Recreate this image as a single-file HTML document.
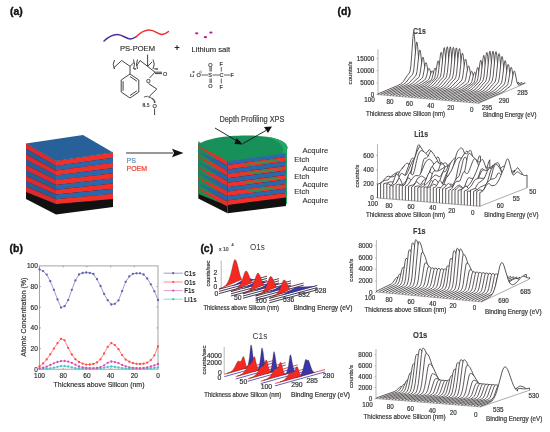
<!DOCTYPE html>
<html><head><meta charset="utf-8"><style>
html,body{margin:0;padding:0;background:#fff;}
svg{display:block;font-family:"Liberation Sans",Arial,sans-serif;}
#w{width:550px;height:432px;overflow:hidden;}
</style></head><body>
<div id="w"><svg width="550" height="432" viewBox="0 0 550 432">
<rect width="550" height="432" fill="#fff"/>
<text x="10" y="14.8" font-size="10.4" fill="#111" text-anchor="start" font-weight="bold" stroke="#111" stroke-width="0.35">(a)</text>
<text x="9.6" y="252.3" font-size="10.4" fill="#111" text-anchor="start" font-weight="bold" stroke="#111" stroke-width="0.35">(b)</text>
<text x="200.4" y="251.8" font-size="10.4" fill="#111" text-anchor="start" font-weight="bold" stroke="#111" stroke-width="0.35">(c)</text>
<text x="337.6" y="14.8" font-size="10.4" fill="#111" text-anchor="start" font-weight="bold" stroke="#111" stroke-width="0.35">(d)</text>
<path d="M104 41 C109 36.5 113 34.5 117 34.5 C123 34.5 126 39 130.5 39 C133 39 135 37.5 136.5 36.5" fill="none" stroke="#4b2a9c" stroke-width="1.5" stroke-linecap="round"/>
<path d="M136.5 36.5 C140 33 144 30 149 30 C155 30 158 34.5 162 34.5 C164.5 34.5 166.5 33 168.5 31.5" fill="none" stroke="#f03232" stroke-width="1.5" stroke-linecap="round"/>
<text x="120" y="51.3" font-size="8" fill="#222" text-anchor="start" font-weight="normal" stroke="#222" stroke-width="0.1" textLength="35" lengthAdjust="spacingAndGlyphs">PS-POEM</text>
<text x="174.3" y="50.8" font-size="9.5" fill="#222" text-anchor="start" font-weight="bold" >+</text>
<ellipse cx="196.7" cy="33.3" rx="1.7" ry="1.15" fill="#c0208c"/>
<ellipse cx="205.4" cy="37.2" rx="1.7" ry="1.15" fill="#c0208c"/>
<ellipse cx="210.9" cy="32.6" rx="1.7" ry="1.15" fill="#c0208c"/>
<text x="191.5" y="51.5" font-size="8" fill="#222" text-anchor="start" font-weight="normal" stroke="#222" stroke-width="0.1" textLength="38.5" lengthAdjust="spacingAndGlyphs">Lithium salt</text>
<path d="M113.5 68 L121.7 60.5 L130 66.3 L134 62.5 M136.5 66 L140 60.5 L147.6 66.3 L152 62 M147.6 66.3 L147.6 54.6 M130 66.3 L130 74" stroke="#3a3a3a" stroke-width="0.95" fill="none"/>
<path d="M114.5 60 Q112 64 114.5 69 M133.5 59.5 Q135.5 64 133.5 69 M137.5 59.5 Q135.5 64 137.5 69 M153 59.5 Q155.5 64 153 69" stroke="#3a3a3a" stroke-width="0.95" fill="none"/>
<text x="134.3" y="70" font-size="3.5" fill="#333" text-anchor="start" font-weight="normal"  stroke="#333" stroke-width="0.2">n</text>
<text x="154.5" y="69.5" font-size="4" fill="#333" text-anchor="start" font-weight="normal"  stroke="#333" stroke-width="0.2">m</text>
<polygon points="130,74 138.8,80 138.8,92 130,98 121.2,92 121.2,80" stroke="#3a3a3a" stroke-width="0.95" fill="none"/>
<path d="M130 76.5 L136.9 81.2 M136.9 90.8 L130 95.5 M123.1 90.8 L123.1 81.2" stroke="#3a3a3a" stroke-width="0.95" fill="none"/>
<path d="M147.6 66.3 L155 72.2 L162 72.2 M155 73.6 L162 73.6 M155 72.2 L149.5 78 M148.5 83.5 L156.8 89 L149.4 96.3 L154 100.5 L154.6 103" stroke="#3a3a3a" stroke-width="0.95" fill="none"/>
<path d="M144 97 Q148 95 150 98 M152 98 Q156 100 155 103" stroke="#3a3a3a" stroke-width="0.8" fill="none"/>
<text x="163" y="75.5" font-size="5.5" fill="#333" text-anchor="start" font-weight="normal"  stroke="#333" stroke-width="0.2">O</text>
<text x="146.3" y="83" font-size="5.5" fill="#333" text-anchor="start" font-weight="normal"  stroke="#333" stroke-width="0.2">O</text>
<text x="152.6" y="108" font-size="5.5" fill="#333" text-anchor="start" font-weight="normal"  stroke="#333" stroke-width="0.2">O</text>
<path d="M154.6 108.5 L154.6 115" stroke="#3a3a3a" stroke-width="0.95" fill="none"/>
<text x="142.5" y="107" font-size="5.5" fill="#333" text-anchor="start" font-weight="normal" font-family="Liberation Serif" stroke="#333" stroke-width="0.2">8.5</text>
<text x="190" y="77" font-size="4.5" fill="#333" text-anchor="start" font-weight="normal" font-family="Liberation Serif" stroke="#333" stroke-width="0.2">Li</text>
<circle cx="193.5" cy="72" r="1" fill="#555"/><circle cx="200.5" cy="72" r="1" fill="none" stroke="#555" stroke-width="0.5"/>
<text x="196.5" y="77" font-size="5.5" fill="#333" text-anchor="start" font-weight="normal"  stroke="#333" stroke-width="0.2">O</text>
<text x="208.2" y="77" font-size="5.5" fill="#333" text-anchor="start" font-weight="normal"  stroke="#333" stroke-width="0.2">S</text>
<text x="219.5" y="77" font-size="5.5" fill="#333" text-anchor="start" font-weight="normal"  stroke="#333" stroke-width="0.2">C</text>
<text x="230.5" y="77" font-size="5.5" fill="#333" text-anchor="start" font-weight="normal"  stroke="#333" stroke-width="0.2">F</text>
<text x="208.2" y="66.5" font-size="5.5" fill="#333" text-anchor="start" font-weight="normal"  stroke="#333" stroke-width="0.2">O</text>
<text x="208.2" y="88" font-size="5.5" fill="#333" text-anchor="start" font-weight="normal"  stroke="#333" stroke-width="0.2">O</text>
<text x="219.5" y="66" font-size="5.5" fill="#333" text-anchor="start" font-weight="normal"  stroke="#333" stroke-width="0.2">F</text>
<text x="219.5" y="88.5" font-size="5.5" fill="#333" text-anchor="start" font-weight="normal"  stroke="#333" stroke-width="0.2">F</text>
<path d="M201.5 75 L208 75 M212.5 75 L219.5 75 M224 75 L230.5 75 M210 67 L210 71.5 M211.3 67 L211.3 71.5 M210 78.5 L210 83 M211.3 78.5 L211.3 83 M221.3 67 L221.3 71.5 M221.3 78.5 L221.3 83.5" stroke="#3a3a3a" stroke-width="0.8" fill="none"/>
<polygon points="26,143.5 56,161 56,214.6 26,199" fill="#111"/>
<polygon points="26,143.5 56,161 56,165.9 26,149" fill="#d92b2e"/>
<polygon points="26,148.9 56,165.8 56,170.6 26,154.3" fill="#275c95"/>
<polygon points="26,154.2 56,170.6 56,175.4 26,159.7" fill="#d92b2e"/>
<polygon points="26,159.6 56,175.3 56,180.2 26,165.1" fill="#275c95"/>
<polygon points="26,165 56,180.1 56,185 26,170.4" fill="#d92b2e"/>
<polygon points="26,170.3 56,184.9 56,189.7 26,175.8" fill="#275c95"/>
<polygon points="26,175.7 56,189.7 56,194.5 26,181.2" fill="#d92b2e"/>
<polygon points="26,181.1 56,194.4 56,199.3 26,186.5" fill="#275c95"/>
<polygon points="26,186.4 56,199.2 56,204.1 26,191.9" fill="#d92b2e"/>
<polygon points="56,161 113,152.5 113,207 56,214.6" fill="#111"/>
<polygon points="56,161 113,152.5 113,157.8 56,165.9" fill="#f2302a"/>
<polygon points="56,165.8 113,157.7 113,162.9 56,170.6" fill="#2a68aa"/>
<polygon points="56,170.6 113,162.8 113,168.1 56,175.4" fill="#f2302a"/>
<polygon points="56,175.3 113,168 113,173.3 56,180.2" fill="#2a68aa"/>
<polygon points="56,180.1 113,173.2 113,178.4 56,185" fill="#f2302a"/>
<polygon points="56,184.9 113,178.3 113,183.6 56,189.7" fill="#2a68aa"/>
<polygon points="56,189.7 113,183.5 113,188.8 56,194.5" fill="#f2302a"/>
<polygon points="56,194.4 113,188.7 113,193.9 56,199.3" fill="#2a68aa"/>
<polygon points="56,199.2 113,193.8 113,199.1 56,204.1" fill="#f2302a"/>
<polygon points="26,143.5 83,135 113,152.5 56,161" fill="#28609a"/>
<path d="M126 153 L173 153" stroke="#333" stroke-width="1.1"/>
<polygon points="172,148.8 183.5,153 172,157.2 174,153" fill="#111"/>
<text x="126.5" y="163.3" font-size="7" fill="#5b8fb9" text-anchor="start" font-weight="normal"  stroke="#5b8fb9" stroke-width="0.2">PS</text>
<text x="126.5" y="171.3" font-size="7" fill="#ee4030" text-anchor="start" font-weight="normal"  stroke="#ee4030" stroke-width="0.2">POEM</text>
<polygon points="198.3,143.5 227.5,161 227.5,213.3 198.3,198.5" fill="#111"/>
<polygon points="198.3,143.5 227.5,161 227.5,166.1 198.3,148.9" fill="#e0302c"/>
<polygon points="198.3,148.8 227.5,166.1 227.5,171.2 198.3,154.2" fill="#2a62a6"/>
<polygon points="198.3,154.1 227.5,171.1 227.5,176.3 198.3,159.5" fill="#e0302c"/>
<polygon points="198.3,159.4 227.5,176.2 227.5,181.3 198.3,164.9" fill="#2a62a6"/>
<polygon points="198.3,164.8 227.5,181.2 227.5,186.4 198.3,170.2" fill="#e0302c"/>
<polygon points="198.3,170.1 227.5,186.3 227.5,191.4 198.3,175.5" fill="#2a62a6"/>
<polygon points="198.3,175.4 227.5,191.3 227.5,196.5 198.3,180.8" fill="#e0302c"/>
<polygon points="198.3,180.7 227.5,196.4 227.5,201.5 198.3,186.1" fill="#2a62a6"/>
<polygon points="198.3,186 227.5,201.4 227.5,206.6 198.3,191.4" fill="#e0302c"/>
<polygon points="227.5,160.5 286,152.5 286,206 227.5,213.3" fill="#111"/>
<polygon points="227.5,160.5 286,152.5 286,157.1 227.5,165" fill="#2a68aa"/>
<polygon points="227.5,164.9 286,157 286,161.6 227.5,169.5" fill="#f2302a"/>
<polygon points="227.5,169.4 286,161.5 286,166.1 227.5,173.9" fill="#2a68aa"/>
<polygon points="227.5,173.8 286,166 286,170.6 227.5,178.3" fill="#f2302a"/>
<polygon points="227.5,178.2 286,170.5 286,175.1 227.5,182.8" fill="#2a68aa"/>
<polygon points="227.5,182.7 286,175 286,179.6 227.5,187.2" fill="#f2302a"/>
<polygon points="227.5,187.1 286,179.5 286,184 227.5,191.6" fill="#2a68aa"/>
<polygon points="227.5,191.5 286,184 286,188.5 227.5,196.1" fill="#f2302a"/>
<polygon points="227.5,196 286,188.5 286,193 227.5,200.5" fill="#2a68aa"/>
<polygon points="227.5,200.4 286,192.9 286,197.5 227.5,204.9" fill="#f2302a"/>
<path d="M241 165.3 Q266 159.5 283 159.6 Q266 164.3 241 165.3 Z" fill="#3f8c47"/>
<path d="M239 174.5 Q266 168.5 283 168.6 Q266 173.3 239 174.5 Z" fill="#3f8c47"/>
<path d="M243 182.9 Q266 177.4 283 177.6 Q266 182.2 243 182.9 Z" fill="#3f8c47"/>
<path d="M241 192 Q266 186.4 283 186.6 Q266 191.2 241 192 Z" fill="#3f8c47"/>
<polygon points="198.3,141.2 222,157.7 198.3,146.1" fill="#1f8a50"/>
<polygon points="198.3,146.5 219.5,161.3 198.3,151.4" fill="#1f8a50"/>
<polygon points="198.3,151.8 217,165 198.3,156.7" fill="#1f8a50"/>
<polygon points="198.3,157.1 222,173 198.3,162" fill="#1f8a50"/>
<polygon points="198.3,162.5 219.5,176.7 198.3,167.4" fill="#1f8a50"/>
<polygon points="198.3,167.8 217,180.5 198.3,172.7" fill="#1f8a50"/>
<polygon points="198.3,173.1 222,188.3 198.3,178" fill="#1f8a50"/>
<polygon points="198.3,178.4 219.5,192.1 198.3,183.3" fill="#1f8a50"/>
<polygon points="198.3,183.7 217,195.9 198.3,188.6" fill="#1f8a50"/>
<polygon points="198.3,189 222,203.6 198.3,193.9" fill="#1f8a50"/>
<path d="M285.6 151 L287 149.5 L287 203.5 L286 204.5 Z" fill="#23a55c"/>
<path d="M198 145 C205 138 230 135 250 135.5 C272 136 287 140 287.5 147.5 L286.3 153.3 L227.5 161.3 L198.3 144.2 Z" fill="#17905a"/>
<path d="M266 136.5 C279 138.5 287 142 287.5 147.5 L286.3 153 L283 153.2 C285 146 278 140 266 136.5 Z" fill="#22a862"/>
<text x="219.4" y="122.2" font-size="8.3" fill="#444" text-anchor="start" font-weight="normal" textLength="65" lengthAdjust="spacingAndGlyphs" stroke="#444" stroke-width="0.2">Depth Profiling XPS</text>
<path d="M215 128 L239.5 142.5 M243 143.5 L266 130.5" stroke="#111" stroke-width="0.9"/>
<polygon points="236.5,138 243,144.5 234.5,144" fill="#111"/>
<polygon points="264,127 272,126.5 268,133" fill="#111"/>
<text x="302.4" y="153.3" font-size="7.6" fill="#333" text-anchor="start" font-weight="normal" stroke="#333" stroke-width="0.12">Acquire</text>
<text x="294.3" y="161.9" font-size="7.6" fill="#333" text-anchor="start" font-weight="normal" stroke="#333" stroke-width="0.12">Etch</text>
<text x="302.4" y="170.5" font-size="7.6" fill="#333" text-anchor="start" font-weight="normal" stroke="#333" stroke-width="0.12">Acquire</text>
<text x="294.3" y="178.6" font-size="7.6" fill="#333" text-anchor="start" font-weight="normal" stroke="#333" stroke-width="0.12">Etch</text>
<text x="302.4" y="186.6" font-size="7.6" fill="#333" text-anchor="start" font-weight="normal" stroke="#333" stroke-width="0.12">Acquire</text>
<text x="294.3" y="194.4" font-size="7.6" fill="#333" text-anchor="start" font-weight="normal" stroke="#333" stroke-width="0.12">Etch</text>
<text x="302.4" y="202.6" font-size="7.6" fill="#333" text-anchor="start" font-weight="normal" stroke="#333" stroke-width="0.12">Acquire</text>
<rect x="39.5" y="265.9" width="118.5" height="103.30000000000001" fill="none" stroke="#9a9a9a" stroke-width="0.9"/>
<path d="M39.5 348.5 h1.5 M158.0 348.5 h-1.5 M39.5 327.9 h1.5 M158.0 327.9 h-1.5 M39.5 307.2 h1.5 M158.0 307.2 h-1.5 M39.5 286.6 h1.5 M158.0 286.6 h-1.5 M63.2 369.2 v-1.5 M63.2 265.9 v1.5 M86.9 369.2 v-1.5 M86.9 265.9 v1.5 M110.6 369.2 v-1.5 M110.6 265.9 v1.5 M134.3 369.2 v-1.5 M134.3 265.9 v1.5" stroke="#888" stroke-width="0.7"/>
<polyline points="39.5,368.9 43.1,368.8 46.7,368.6 50.3,368.3 53.9,367.7 57.5,366.8 61,366.1 64.6,366 68.2,366.5 71.8,367.4 75.4,368.2 79,368.5 82.6,368.7 86.2,368.8 89.8,368.8 93.4,368.7 97,368.6 100.5,368.4 104.1,367.7 107.7,366.9 111.3,366.5 114.9,366.9 118.5,367.5 122.1,368.1 125.7,368.4 129.3,368.7 132.9,368.8 136.5,368.8 140,368.8 143.6,368.7 147.2,368.6 150.8,368.3 154.4,367.9 158,367.5" fill="none" stroke="#7ad6d6" stroke-width="0.9"/>
<g fill="#45c4c4"><circle cx="39.5" cy="368.9" r="1.15"/><circle cx="43.1" cy="368.8" r="1.15"/><circle cx="46.7" cy="368.6" r="1.15"/><circle cx="50.3" cy="368.3" r="1.15"/><circle cx="53.9" cy="367.7" r="1.15"/><circle cx="57.5" cy="366.8" r="1.15"/><circle cx="61" cy="366.1" r="1.15"/><circle cx="64.6" cy="366" r="1.15"/><circle cx="68.2" cy="366.5" r="1.15"/><circle cx="71.8" cy="367.4" r="1.15"/><circle cx="75.4" cy="368.2" r="1.15"/><circle cx="79" cy="368.5" r="1.15"/><circle cx="82.6" cy="368.7" r="1.15"/><circle cx="86.2" cy="368.8" r="1.15"/><circle cx="89.8" cy="368.8" r="1.15"/><circle cx="93.4" cy="368.7" r="1.15"/><circle cx="97" cy="368.6" r="1.15"/><circle cx="100.5" cy="368.4" r="1.15"/><circle cx="104.1" cy="367.7" r="1.15"/><circle cx="107.7" cy="366.9" r="1.15"/><circle cx="111.3" cy="366.5" r="1.15"/><circle cx="114.9" cy="366.9" r="1.15"/><circle cx="118.5" cy="367.5" r="1.15"/><circle cx="122.1" cy="368.1" r="1.15"/><circle cx="125.7" cy="368.4" r="1.15"/><circle cx="129.3" cy="368.7" r="1.15"/><circle cx="132.9" cy="368.8" r="1.15"/><circle cx="136.5" cy="368.8" r="1.15"/><circle cx="140" cy="368.8" r="1.15"/><circle cx="143.6" cy="368.7" r="1.15"/><circle cx="147.2" cy="368.6" r="1.15"/><circle cx="150.8" cy="368.3" r="1.15"/><circle cx="154.4" cy="367.9" r="1.15"/><circle cx="158" cy="367.5" r="1.15"/></g>
<polyline points="39.5,368.4 43.1,367.7 46.7,366.7 50.3,365 53.9,363.3 57.5,361.9 61,361.1 64.6,361 68.2,361.6 71.8,362.8 75.4,364.7 79,366.5 82.6,367.4 86.2,367.9 89.8,368.1 93.4,368.2 97,367.9 100.5,367.1 104.1,365.3 107.7,362.8 111.3,361.5 114.9,362.1 118.5,363.2 122.1,364.9 125.7,366.3 129.3,367.3 132.9,367.8 136.5,368.1 140,368.2 143.6,368 147.2,367.5 150.8,366.5 154.4,365.4 158,364" fill="none" stroke="#e890d0" stroke-width="0.9"/>
<g fill="#d24cb8"><circle cx="39.5" cy="368.4" r="1.15"/><circle cx="43.1" cy="367.7" r="1.15"/><circle cx="46.7" cy="366.7" r="1.15"/><circle cx="50.3" cy="365" r="1.15"/><circle cx="53.9" cy="363.3" r="1.15"/><circle cx="57.5" cy="361.9" r="1.15"/><circle cx="61" cy="361.1" r="1.15"/><circle cx="64.6" cy="361" r="1.15"/><circle cx="68.2" cy="361.6" r="1.15"/><circle cx="71.8" cy="362.8" r="1.15"/><circle cx="75.4" cy="364.7" r="1.15"/><circle cx="79" cy="366.5" r="1.15"/><circle cx="82.6" cy="367.4" r="1.15"/><circle cx="86.2" cy="367.9" r="1.15"/><circle cx="89.8" cy="368.1" r="1.15"/><circle cx="93.4" cy="368.2" r="1.15"/><circle cx="97" cy="367.9" r="1.15"/><circle cx="100.5" cy="367.1" r="1.15"/><circle cx="104.1" cy="365.3" r="1.15"/><circle cx="107.7" cy="362.8" r="1.15"/><circle cx="111.3" cy="361.5" r="1.15"/><circle cx="114.9" cy="362.1" r="1.15"/><circle cx="118.5" cy="363.2" r="1.15"/><circle cx="122.1" cy="364.9" r="1.15"/><circle cx="125.7" cy="366.3" r="1.15"/><circle cx="129.3" cy="367.3" r="1.15"/><circle cx="132.9" cy="367.8" r="1.15"/><circle cx="136.5" cy="368.1" r="1.15"/><circle cx="140" cy="368.2" r="1.15"/><circle cx="143.6" cy="368" r="1.15"/><circle cx="147.2" cy="367.5" r="1.15"/><circle cx="150.8" cy="366.5" r="1.15"/><circle cx="154.4" cy="365.4" r="1.15"/><circle cx="158" cy="364" r="1.15"/></g>
<polyline points="39.5,366.5 43.1,363.4 46.7,359.4 50.3,354.3 53.9,348.6 57.5,343.1 61,338.8 64.6,340.3 68.2,347.8 71.8,354.5 75.4,359.2 79,362 82.6,363.6 86.2,364.6 89.8,364.5 93.4,363.9 97,362.4 100.5,359.3 104.1,353.5 107.7,346.8 111.3,343.1 114.9,345.1 118.5,349.2 122.1,355.1 125.7,359.6 129.3,361.7 132.9,363.2 136.5,363.8 140,364 143.6,363.7 147.2,362.6 150.8,360.1 154.4,355.3 158,346.5" fill="none" stroke="#ff7a7a" stroke-width="0.9"/>
<g fill="#ff4848"><circle cx="39.5" cy="366.5" r="1.15"/><circle cx="43.1" cy="363.4" r="1.15"/><circle cx="46.7" cy="359.4" r="1.15"/><circle cx="50.3" cy="354.3" r="1.15"/><circle cx="53.9" cy="348.6" r="1.15"/><circle cx="57.5" cy="343.1" r="1.15"/><circle cx="61" cy="338.8" r="1.15"/><circle cx="64.6" cy="340.3" r="1.15"/><circle cx="68.2" cy="347.8" r="1.15"/><circle cx="71.8" cy="354.5" r="1.15"/><circle cx="75.4" cy="359.2" r="1.15"/><circle cx="79" cy="362" r="1.15"/><circle cx="82.6" cy="363.6" r="1.15"/><circle cx="86.2" cy="364.6" r="1.15"/><circle cx="89.8" cy="364.5" r="1.15"/><circle cx="93.4" cy="363.9" r="1.15"/><circle cx="97" cy="362.4" r="1.15"/><circle cx="100.5" cy="359.3" r="1.15"/><circle cx="104.1" cy="353.5" r="1.15"/><circle cx="107.7" cy="346.8" r="1.15"/><circle cx="111.3" cy="343.1" r="1.15"/><circle cx="114.9" cy="345.1" r="1.15"/><circle cx="118.5" cy="349.2" r="1.15"/><circle cx="122.1" cy="355.1" r="1.15"/><circle cx="125.7" cy="359.6" r="1.15"/><circle cx="129.3" cy="361.7" r="1.15"/><circle cx="132.9" cy="363.2" r="1.15"/><circle cx="136.5" cy="363.8" r="1.15"/><circle cx="140" cy="364" r="1.15"/><circle cx="143.6" cy="363.7" r="1.15"/><circle cx="147.2" cy="362.6" r="1.15"/><circle cx="150.8" cy="360.1" r="1.15"/><circle cx="154.4" cy="355.3" r="1.15"/><circle cx="158" cy="346.5" r="1.15"/></g>
<polyline points="39.5,269.4 43.1,271.1 46.7,274.6 50.3,281.2 53.9,289.8 57.5,299.4 61,307.6 64.6,306.2 68.2,300.1 71.8,289.8 75.4,280.4 79,274.5 82.6,273 86.2,272.5 89.8,272.9 93.4,274 97,279.2 100.5,286 104.1,293.9 107.7,300.2 111.3,304.5 114.9,303.8 118.5,300.4 122.1,291.1 125.7,281.8 129.3,276.4 132.9,273.8 136.5,273.3 140,273.3 143.6,274.5 147.2,278.5 150.8,284.3 154.4,291.3 158,300" fill="none" stroke="#9090d2" stroke-width="0.9"/>
<g fill="#5e5eae"><circle cx="39.5" cy="269.4" r="1.15"/><circle cx="43.1" cy="271.1" r="1.15"/><circle cx="46.7" cy="274.6" r="1.15"/><circle cx="50.3" cy="281.2" r="1.15"/><circle cx="53.9" cy="289.8" r="1.15"/><circle cx="57.5" cy="299.4" r="1.15"/><circle cx="61" cy="307.6" r="1.15"/><circle cx="64.6" cy="306.2" r="1.15"/><circle cx="68.2" cy="300.1" r="1.15"/><circle cx="71.8" cy="289.8" r="1.15"/><circle cx="75.4" cy="280.4" r="1.15"/><circle cx="79" cy="274.5" r="1.15"/><circle cx="82.6" cy="273" r="1.15"/><circle cx="86.2" cy="272.5" r="1.15"/><circle cx="89.8" cy="272.9" r="1.15"/><circle cx="93.4" cy="274" r="1.15"/><circle cx="97" cy="279.2" r="1.15"/><circle cx="100.5" cy="286" r="1.15"/><circle cx="104.1" cy="293.9" r="1.15"/><circle cx="107.7" cy="300.2" r="1.15"/><circle cx="111.3" cy="304.5" r="1.15"/><circle cx="114.9" cy="303.8" r="1.15"/><circle cx="118.5" cy="300.4" r="1.15"/><circle cx="122.1" cy="291.1" r="1.15"/><circle cx="125.7" cy="281.8" r="1.15"/><circle cx="129.3" cy="276.4" r="1.15"/><circle cx="132.9" cy="273.8" r="1.15"/><circle cx="136.5" cy="273.3" r="1.15"/><circle cx="140" cy="273.3" r="1.15"/><circle cx="143.6" cy="274.5" r="1.15"/><circle cx="147.2" cy="278.5" r="1.15"/><circle cx="150.8" cy="284.3" r="1.15"/><circle cx="154.4" cy="291.3" r="1.15"/><circle cx="158" cy="300" r="1.15"/></g>
<text x="37.8" y="371.7" font-size="7.0" fill="#333" text-anchor="end" font-weight="normal" textLength="3.6" lengthAdjust="spacingAndGlyphs" stroke="#333" stroke-width="0.2">0</text>
<text x="37.8" y="351" font-size="7.0" fill="#333" text-anchor="end" font-weight="normal" textLength="7.3" lengthAdjust="spacingAndGlyphs" stroke="#333" stroke-width="0.2">20</text>
<text x="37.8" y="330.4" font-size="7.0" fill="#333" text-anchor="end" font-weight="normal" textLength="7.3" lengthAdjust="spacingAndGlyphs" stroke="#333" stroke-width="0.2">40</text>
<text x="37.8" y="309.7" font-size="7.0" fill="#333" text-anchor="end" font-weight="normal" textLength="7.3" lengthAdjust="spacingAndGlyphs" stroke="#333" stroke-width="0.2">60</text>
<text x="37.8" y="289.1" font-size="7.0" fill="#333" text-anchor="end" font-weight="normal" textLength="7.3" lengthAdjust="spacingAndGlyphs" stroke="#333" stroke-width="0.2">80</text>
<text x="37.8" y="268.4" font-size="7.0" fill="#333" text-anchor="end" font-weight="normal" textLength="10.9" lengthAdjust="spacingAndGlyphs" stroke="#333" stroke-width="0.2">100</text>
<text x="39.5" y="378.3" font-size="7.2" fill="#333" text-anchor="middle" font-weight="normal" textLength="10.9" lengthAdjust="spacingAndGlyphs" stroke="#333" stroke-width="0.2">100</text>
<text x="63.2" y="378.3" font-size="7.2" fill="#333" text-anchor="middle" font-weight="normal" textLength="7.3" lengthAdjust="spacingAndGlyphs" stroke="#333" stroke-width="0.2">80</text>
<text x="86.9" y="378.3" font-size="7.2" fill="#333" text-anchor="middle" font-weight="normal" textLength="7.3" lengthAdjust="spacingAndGlyphs" stroke="#333" stroke-width="0.2">60</text>
<text x="110.6" y="378.3" font-size="7.2" fill="#333" text-anchor="middle" font-weight="normal" textLength="7.3" lengthAdjust="spacingAndGlyphs" stroke="#333" stroke-width="0.2">40</text>
<text x="134.3" y="378.3" font-size="7.2" fill="#333" text-anchor="middle" font-weight="normal" textLength="7.3" lengthAdjust="spacingAndGlyphs" stroke="#333" stroke-width="0.2">20</text>
<text x="158" y="378.3" font-size="7.2" fill="#333" text-anchor="middle" font-weight="normal" textLength="3.6" lengthAdjust="spacingAndGlyphs" stroke="#333" stroke-width="0.2">0</text>
<text x="99" y="387.4" font-size="7.9" fill="#333" text-anchor="middle" font-weight="normal" textLength="91" lengthAdjust="spacingAndGlyphs" stroke="#333" stroke-width="0.2">Thickness above Silicon (nm)</text>
<text x="0" y="0" font-size="7.6" fill="#333" text-anchor="middle" font-weight="normal" transform="translate(26 317.2) rotate(-90)" textLength="79" lengthAdjust="spacingAndGlyphs" stroke="#333" stroke-width="0.2">Atomic Concentration (%)</text>
<path d="M163.6 273.2 H182.7" stroke="#9090d2" stroke-width="0.9"/><circle cx="173.2" cy="273.2" r="1.1" fill="#5e5eae"/>
<text x="184.2" y="275.8" font-size="7.3" fill="#2a2a2a" text-anchor="start" font-weight="bold" textLength="11.6" lengthAdjust="spacingAndGlyphs">C1s</text>
<path d="M163.6 282.0 H182.7" stroke="#ff7a7a" stroke-width="0.9"/><circle cx="173.2" cy="282.0" r="1.1" fill="#ff4848"/>
<text x="184.2" y="284.6" font-size="7.3" fill="#2a2a2a" text-anchor="start" font-weight="bold" textLength="11.6" lengthAdjust="spacingAndGlyphs">O1s</text>
<path d="M163.6 290.6 H182.7" stroke="#e890d0" stroke-width="0.9"/><circle cx="173.2" cy="290.6" r="1.1" fill="#d24cb8"/>
<text x="184.2" y="293.2" font-size="7.3" fill="#2a2a2a" text-anchor="start" font-weight="bold" textLength="10.6" lengthAdjust="spacingAndGlyphs">F1s</text>
<path d="M163.6 299.2 H182.7" stroke="#7ad6d6" stroke-width="0.9"/><circle cx="173.2" cy="299.2" r="1.1" fill="#45c4c4"/>
<text x="184.2" y="301.8" font-size="7.3" fill="#2a2a2a" text-anchor="start" font-weight="bold" textLength="12.6" lengthAdjust="spacingAndGlyphs">Li1s</text>
<text x="250" y="249.6" font-size="9.6" fill="#3a3a3a" text-anchor="start" font-weight="normal" textLength="14.8" lengthAdjust="spacingAndGlyphs">O1s</text>
<text x="219" y="251" font-size="5" fill="#444" text-anchor="start" font-weight="normal"  stroke="#444" stroke-width="0.2">x 10</text>
<text x="231.5" y="246" font-size="3.8" fill="#444" text-anchor="start" font-weight="normal"  stroke="#444" stroke-width="0.2">4</text>
<path d="M221.2 260.5 L221.2 289" stroke="#888" stroke-width="0.6"/>
<text x="215.5" y="274.8" font-size="6.8" fill="#333" text-anchor="middle" font-weight="normal"  stroke="#333" stroke-width="0.2">2</text>
<text x="215.5" y="281.7" font-size="6.8" fill="#333" text-anchor="middle" font-weight="normal"  stroke="#333" stroke-width="0.2">1</text>
<text x="215.5" y="288.9" font-size="6.8" fill="#333" text-anchor="middle" font-weight="normal"  stroke="#333" stroke-width="0.2">0</text>
<text x="0" y="0" font-size="5.8" fill="#333" text-anchor="middle" font-weight="normal" transform="translate(210 273.5) rotate(-90)" textLength="26" lengthAdjust="spacingAndGlyphs" stroke="#333" stroke-width="0.2">counts/sec</text>
<polygon points="219,291.4 267,278.4 267,280.6 219,293.6" fill="#fff"/>
<path d="M219 293.6 L267 280.6" stroke="#1a1a3a" stroke-width="0.85"/>
<polygon points="219,289.2 267,276.2 267,278.4 219,291.4" fill="#fff"/>
<path d="M219 291.4 L267 278.4" stroke="#1a1a3a" stroke-width="0.85"/>
<path d="M219 289.2 L267 276.2" stroke="#5a1a1a" stroke-width="0.85"/>
<polygon points="231.9,286.3 246.9,277.5 254.9,279.7" fill="#3b37a0"/>
<polygon points="219,288.7 219.3,288.6 219.6,288.5 219.9,288.4 220.2,288.3 220.5,288.1 220.8,288 221.1,287.9 221.4,287.8 221.7,287.7 222,287.5 222.3,287.4 222.6,287.3 222.9,287.1 223.2,287 223.5,286.8 223.8,286.6 224.1,286.4 224.4,286.2 224.7,286 225,285.8 225.3,285.5 225.6,285.2 225.9,284.9 226.2,284.5 226.5,284.2 226.8,283.7 227.2,283.3 227.5,282.8 227.8,282.2 228.1,281.6 228.4,281 228.7,280.3 229,279.5 229.3,278.7 229.6,277.9 229.9,276.9 230.2,276 230.5,274.9 230.8,273.8 231.1,272.7 231.4,271.5 231.7,270.3 232,269 232.3,267.7 232.6,266.4 232.9,265.1 233.2,263.9 233.5,262.7 233.8,261.7 234.1,260.8 234.4,260.1 234.7,259.7 235,259.6 235.3,259.7 235.6,259.9 235.9,260.4 236.2,261 236.5,261.7 236.8,262.6 237.1,263.6 237.4,264.7 237.7,265.8 238,267.1 238.3,268.3 238.6,269.5 238.9,270.8 239.2,272 239.5,273.1 239.8,274.2 240.1,275.2 240.4,276.2 240.7,277 241,277.8 241.3,278.5 241.6,279.1 241.9,279.6 241.9,279.6 241.6,279.7 241.3,279.8 241,279.9 240.7,280.1 240.4,280.2 240.1,280.3 239.8,280.4 239.5,280.6 239.2,280.7 238.9,280.8 238.6,280.9 238.3,281.1 238,281.2 237.7,281.3 237.4,281.5 237.1,281.6 236.8,281.7 236.5,281.8 236.2,282 235.9,282.1 235.6,282.2 235.3,282.3 235,282.5 234.7,282.6 234.4,282.7 234.1,282.9 233.8,283 233.5,283.1 233.2,283.2 232.9,283.4 232.6,283.5 232.3,283.6 232,283.7 231.7,283.9 231.4,284 231.1,284.1 230.8,284.2 230.5,284.4 230.2,284.5 229.9,284.6 229.6,284.8 229.3,284.9 229,285 228.7,285.1 228.4,285.3 228.1,285.4 227.8,285.5 227.5,285.6 227.2,285.8 226.8,285.9 226.5,286 226.2,286.2 225.9,286.3 225.6,286.4 225.3,286.5 225,286.7 224.7,286.8 224.4,286.9 224.1,287 223.8,287.2 223.5,287.3 223.2,287.4 222.9,287.5 222.6,287.7 222.3,287.8 222,287.9 221.7,288.1 221.4,288.2 221.1,288.3 220.8,288.4 220.5,288.6 220.2,288.7 219.9,288.8 219.6,288.9 219.3,289.1 219,289.2" fill="#f42a22" stroke="#401818" stroke-width="0.3"/>
<polygon points="231,293.8 279,280.8 279,283 231,296" fill="#fff"/>
<path d="M231 296 L279 283" stroke="#1a1a3a" stroke-width="0.85"/>
<polygon points="231,291.6 279,278.6 279,280.8 231,293.8" fill="#fff"/>
<path d="M231 293.8 L279 280.8" stroke="#1a1a3a" stroke-width="0.85"/>
<path d="M231 291.6 L279 278.6" stroke="#5a1a1a" stroke-width="0.85"/>
<polygon points="242.9,289 257.9,280.1 265.9,282.4" fill="#3b37a0"/>
<polygon points="231,291.2 231.3,291.1 231.6,291 231.9,290.9 232.2,290.8 232.5,290.7 232.8,290.6 233.1,290.5 233.4,290.4 233.7,290.2 234,290.1 234.3,290 234.6,289.8 234.9,289.7 235.2,289.5 235.5,289.4 235.8,289.2 236.1,289 236.4,288.8 236.7,288.6 237,288.3 237.3,288.1 237.6,287.8 237.9,287.5 238.2,287.1 238.5,286.8 238.8,286.4 239.2,285.9 239.5,285.5 239.8,285 240.1,284.4 240.4,283.9 240.7,283.3 241,282.6 241.3,281.9 241.6,281.2 241.9,280.5 242.2,279.7 242.5,278.9 242.8,278 243.1,277.2 243.4,276.3 243.7,275.4 244,274.5 244.3,273.7 244.6,272.9 244.9,272.3 245.2,271.7 245.5,271.3 245.8,271 246.1,271 246.4,271 246.7,271.2 247,271.5 247.3,271.9 247.6,272.4 247.9,273 248.2,273.6 248.5,274.3 248.8,275.1 249.1,275.8 249.4,276.6 249.7,277.4 250,278.2 250.3,278.9 250.6,279.6 250.9,280.3 251.2,280.9 251.5,281.5 251.8,282 252.1,282.5 252.1,282.6 251.8,282.7 251.5,282.9 251.2,283 250.9,283.1 250.6,283.2 250.3,283.4 250,283.5 249.7,283.6 249.4,283.8 249.1,283.9 248.8,284 248.5,284.1 248.2,284.3 247.9,284.4 247.6,284.5 247.3,284.7 247,284.8 246.7,284.9 246.4,285 246.1,285.2 245.8,285.3 245.5,285.4 245.2,285.6 244.9,285.7 244.6,285.8 244.3,285.9 244,286.1 243.7,286.2 243.4,286.3 243.1,286.5 242.8,286.6 242.5,286.7 242.2,286.8 241.9,287 241.6,287.1 241.3,287.2 241,287.4 240.7,287.5 240.4,287.6 240.1,287.7 239.8,287.9 239.5,288 239.2,288.1 238.8,288.3 238.5,288.4 238.2,288.5 237.9,288.6 237.6,288.8 237.3,288.9 237,289 236.7,289.2 236.4,289.3 236.1,289.4 235.8,289.5 235.5,289.7 235.2,289.8 234.9,289.9 234.6,290.1 234.3,290.2 234,290.3 233.7,290.4 233.4,290.6 233.1,290.7 232.8,290.8 232.5,291 232.2,291.1 231.9,291.2 231.6,291.3 231.3,291.5 231,291.6" fill="#f42a22" stroke="#401818" stroke-width="0.3"/>
<polygon points="243,296 291,283 291,285.2 243,298.2" fill="#fff"/>
<path d="M243 298.2 L291 285.2" stroke="#1a1a3a" stroke-width="0.85"/>
<polygon points="243,293.8 291,280.8 291,283 243,296" fill="#fff"/>
<path d="M243 296 L291 283" stroke="#1a1a3a" stroke-width="0.85"/>
<path d="M243 293.8 L291 280.8" stroke="#5a1a1a" stroke-width="0.85"/>
<polygon points="254.7,291.2 269.7,282.4 277.7,284.6" fill="#3b37a0"/>
<polygon points="243,293.4 243.3,293.3 243.6,293.2 243.9,293.1 244.2,293 244.5,292.9 244.8,292.8 245.1,292.6 245.4,292.5 245.7,292.4 246,292.3 246.3,292.1 246.6,292 246.9,291.8 247.2,291.7 247.5,291.5 247.8,291.3 248.1,291.1 248.4,290.9 248.7,290.7 249,290.4 249.3,290.1 249.6,289.8 249.9,289.5 250.2,289.1 250.5,288.7 250.8,288.3 251.2,287.9 251.5,287.4 251.8,286.9 252.1,286.3 252.4,285.7 252.7,285.1 253,284.4 253.3,283.7 253.6,283 253.9,282.2 254.2,281.4 254.5,280.5 254.8,279.7 255.1,278.8 255.4,277.9 255.7,277 256,276.2 256.3,275.4 256.6,274.7 256.9,274.1 257.2,273.6 257.5,273.3 257.8,273.2 258.1,273.2 258.4,273.3 258.7,273.6 259,274 259.3,274.4 259.6,275 259.9,275.6 260.2,276.3 260.5,277 260.8,277.8 261.1,278.6 261.4,279.4 261.7,280.1 262,280.9 262.3,281.6 262.6,282.3 262.9,283 263.2,283.6 263.5,284.1 263.8,284.6 264.1,284.8 264.1,284.8 263.8,284.9 263.5,285 263.2,285.2 262.9,285.3 262.6,285.4 262.3,285.5 262,285.7 261.7,285.8 261.4,285.9 261.1,286.1 260.8,286.2 260.5,286.3 260.2,286.4 259.9,286.6 259.6,286.7 259.3,286.8 259,287 258.7,287.1 258.4,287.2 258.1,287.4 257.8,287.5 257.5,287.6 257.2,287.7 256.9,287.9 256.6,288 256.3,288.1 256,288.3 255.7,288.4 255.4,288.5 255.1,288.6 254.8,288.8 254.5,288.9 254.2,289 253.9,289.2 253.6,289.3 253.3,289.4 253,289.5 252.7,289.7 252.4,289.8 252.1,289.9 251.8,290.1 251.5,290.2 251.2,290.3 250.8,290.4 250.5,290.6 250.2,290.7 249.9,290.8 249.6,291 249.3,291.1 249,291.2 248.7,291.3 248.4,291.5 248.1,291.6 247.8,291.7 247.5,291.9 247.2,292 246.9,292.1 246.6,292.3 246.3,292.4 246,292.5 245.7,292.6 245.4,292.8 245.1,292.9 244.8,293 244.5,293.2 244.2,293.3 243.9,293.4 243.6,293.5 243.3,293.7 243,293.8" fill="#f42a22" stroke="#401818" stroke-width="0.3"/>
<polygon points="255.6,298.2 303.6,285.2 303.6,287.4 255.6,300.4" fill="#fff"/>
<path d="M255.6 300.4 L303.6 287.4" stroke="#1a1a3a" stroke-width="0.85"/>
<polygon points="255.6,296 303.6,283 303.6,285.2 255.6,298.2" fill="#fff"/>
<path d="M255.6 298.2 L303.6 285.2" stroke="#1a1a3a" stroke-width="0.85"/>
<path d="M255.6 296 L303.6 283" stroke="#5a1a1a" stroke-width="0.85"/>
<polygon points="267.5,293.4 282.5,284.5 290.5,286.8" fill="#3b37a0"/>
<polygon points="255.6,295.6 255.9,295.5 256.2,295.4 256.5,295.3 256.8,295.2 257.1,295.1 257.4,295 257.7,294.9 258,294.8 258.3,294.7 258.6,294.6 258.9,294.4 259.2,294.3 259.5,294.1 259.8,294 260.1,293.8 260.4,293.7 260.7,293.5 261,293.3 261.3,293.1 261.6,292.8 261.9,292.6 262.2,292.3 262.5,292 262.8,291.7 263.1,291.3 263.4,291 263.8,290.6 264.1,290.1 264.4,289.7 264.7,289.2 265,288.6 265.3,288 265.6,287.4 265.9,286.8 266.2,286.1 266.5,285.4 266.8,284.7 267.1,283.9 267.4,283.1 267.7,282.3 268,281.5 268.3,280.7 268.6,279.8 268.9,279.1 269.2,278.3 269.5,277.7 269.8,277.2 270.1,276.8 270.4,276.5 270.7,276.5 271,276.5 271.3,276.7 271.6,276.9 271.9,277.3 272.2,277.8 272.5,278.3 272.8,278.9 273.1,279.6 273.4,280.2 273.7,281 274,281.7 274.3,282.4 274.6,283.1 274.9,283.8 275.2,284.5 275.5,285.1 275.8,285.7 276.1,286.2 276.4,286.7 276.7,287 276.7,287 276.4,287.1 276.1,287.3 275.8,287.4 275.5,287.5 275.2,287.6 274.9,287.8 274.6,287.9 274.3,288 274,288.2 273.7,288.3 273.4,288.4 273.1,288.5 272.8,288.7 272.5,288.8 272.2,288.9 271.9,289.1 271.6,289.2 271.3,289.3 271,289.4 270.7,289.6 270.4,289.7 270.1,289.8 269.8,290 269.5,290.1 269.2,290.2 268.9,290.3 268.6,290.5 268.3,290.6 268,290.7 267.7,290.9 267.4,291 267.1,291.1 266.8,291.2 266.5,291.4 266.2,291.5 265.9,291.6 265.6,291.8 265.3,291.9 265,292 264.7,292.1 264.4,292.3 264.1,292.4 263.8,292.5 263.4,292.7 263.1,292.8 262.8,292.9 262.5,293 262.2,293.2 261.9,293.3 261.6,293.4 261.3,293.6 261,293.7 260.7,293.8 260.4,293.9 260.1,294.1 259.8,294.2 259.5,294.3 259.2,294.5 258.9,294.6 258.6,294.7 258.3,294.8 258,295 257.7,295.1 257.4,295.2 257.1,295.4 256.8,295.5 256.5,295.6 256.2,295.7 255.9,295.9 255.6,296" fill="#f42a22" stroke="#401818" stroke-width="0.3"/>
<polygon points="269.3,300.6 317.3,287.6 317.3,289.8 269.3,302.8" fill="#fff"/>
<path d="M269.3 302.8 L317.3 289.8" stroke="#1a1a3a" stroke-width="0.85"/>
<polygon points="269.3,298.4 317.3,285.4 317.3,287.6 269.3,300.6" fill="#fff"/>
<path d="M269.3 300.6 L317.3 287.6" stroke="#1a1a3a" stroke-width="0.85"/>
<path d="M269.3 298.4 L317.3 285.4" stroke="#5a1a1a" stroke-width="0.85"/>
<polygon points="281,295.8 296,287 316.3,285.9" fill="#3b37a0"/>
<polygon points="269.3,298 269.6,297.9 269.9,297.8 270.2,297.7 270.5,297.6 270.8,297.5 271.1,297.4 271.4,297.3 271.7,297.2 272,297.1 272.3,297 272.6,296.8 272.9,296.7 273.2,296.6 273.5,296.4 273.8,296.2 274.1,296.1 274.4,295.9 274.7,295.7 275,295.5 275.3,295.2 275.6,295 275.9,294.7 276.2,294.4 276.5,294.1 276.8,293.7 277.1,293.4 277.5,293 277.8,292.5 278.1,292.1 278.4,291.6 278.7,291 279,290.5 279.3,289.9 279.6,289.3 279.9,288.6 280.2,287.9 280.5,287.2 280.8,286.5 281.1,285.7 281.4,285 281.7,284.2 282,283.4 282.3,282.7 282.6,282 282.9,281.3 283.2,280.8 283.5,280.4 283.8,280.1 284.1,280 284.4,280 284.7,280.1 285,280.3 285.3,280.6 285.6,281 285.9,281.5 286.2,282 286.5,282.6 286.8,283.2 287.1,283.9 287.4,284.5 287.7,285.2 288,285.9 288.3,286.5 288.6,287.1 288.9,287.7 289.2,288.3 289.5,288.8 289.8,289.3 290.1,289.5 290.1,289.5 289.8,289.6 289.5,289.8 289.2,289.9 288.9,290 288.6,290.1 288.3,290.3 288,290.4 287.7,290.5 287.4,290.7 287.1,290.8 286.8,290.9 286.5,291 286.2,291.2 285.9,291.3 285.6,291.4 285.3,291.6 285,291.7 284.7,291.8 284.4,292 284.1,292.1 283.8,292.2 283.5,292.3 283.2,292.5 282.9,292.6 282.6,292.7 282.3,292.9 282,293 281.7,293.1 281.4,293.2 281.1,293.4 280.8,293.5 280.5,293.6 280.2,293.8 279.9,293.9 279.6,294 279.3,294.1 279,294.3 278.7,294.4 278.4,294.5 278.1,294.7 277.8,294.8 277.5,294.9 277.1,295 276.8,295.2 276.5,295.3 276.2,295.4 275.9,295.6 275.6,295.7 275.3,295.8 275,295.9 274.7,296.1 274.4,296.2 274.1,296.3 273.8,296.5 273.5,296.6 273.2,296.7 272.9,296.9 272.6,297 272.3,297.1 272,297.2 271.7,297.4 271.4,297.5 271.1,297.6 270.8,297.8 270.5,297.9 270.2,298 269.9,298.1 269.6,298.3 269.3,298.4" fill="#f42a22" stroke="#401818" stroke-width="0.3"/>
<text x="216.5" y="295.5" font-size="6.8" fill="#333" text-anchor="middle" font-weight="normal"  stroke="#333" stroke-width="0.2">0</text>
<text x="237.8" y="299.8" font-size="6.8" fill="#333" text-anchor="middle" font-weight="normal"  stroke="#333" stroke-width="0.2">50</text>
<text x="261" y="303.3" font-size="6.8" fill="#333" text-anchor="middle" font-weight="normal"  stroke="#333" stroke-width="0.2">100</text>
<text x="288.7" y="302.1" font-size="6.8" fill="#333" text-anchor="middle" font-weight="normal"  stroke="#333" stroke-width="0.2">536</text>
<text x="304" y="296.9" font-size="6.8" fill="#333" text-anchor="middle" font-weight="normal"  stroke="#333" stroke-width="0.2">532</text>
<text x="320.6" y="292.5" font-size="6.8" fill="#333" text-anchor="middle" font-weight="normal"  stroke="#333" stroke-width="0.2">528</text>
<text x="203.5" y="310.2" font-size="6.6" fill="#333" text-anchor="start" font-weight="normal" textLength="75.5" lengthAdjust="spacingAndGlyphs" stroke="#333" stroke-width="0.2">Thickness above Silicon (nm)</text>
<text x="293.4" y="310.2" font-size="6.6" fill="#333" text-anchor="start" font-weight="normal"  stroke="#333" stroke-width="0.2">Binding Energy (eV)</text>
<text x="252.5" y="338.8" font-size="9.6" fill="#3a3a3a" text-anchor="start" font-weight="normal" textLength="14.9" lengthAdjust="spacingAndGlyphs">C1s</text>
<path d="M224.2 347 L224.2 374.3" stroke="#888" stroke-width="0.6"/>
<text x="221.8" y="358" font-size="6.8" fill="#333" text-anchor="end" font-weight="normal"  stroke="#333" stroke-width="0.2">4000</text>
<text x="221.8" y="365.1" font-size="6.8" fill="#333" text-anchor="end" font-weight="normal"  stroke="#333" stroke-width="0.2">2000</text>
<text x="221.8" y="374.9" font-size="6.8" fill="#333" text-anchor="end" font-weight="normal"  stroke="#333" stroke-width="0.2">0</text>
<text x="0" y="0" font-size="5.8" fill="#333" text-anchor="middle" font-weight="normal" transform="translate(205.5 360) rotate(-90)" textLength="29" lengthAdjust="spacingAndGlyphs" stroke="#333" stroke-width="0.2">counts/sec</text>
<polygon points="224.2,374.3 274.2,360.3 274.2,362.7 224.2,376.7" fill="#fff"/>
<path d="M224.2 376.7 L274.2 362.7" stroke="#3a36a8" stroke-width="0.8"/>
<path d="M224.2 374.3 L274.2 360.3" stroke="#d83030" stroke-width="0.8"/>
<polygon points="243.7,368.6 244,368.4 244.3,368.3 244.6,368.2 245,368.1 245.3,367.9 245.6,367.8 245.9,367.6 246.2,367.5 246.5,367.3 246.8,367 247.2,366.7 247.5,366.2 247.8,365.6 248.1,364.7 248.4,363.6 248.7,362.1 249,360.2 249.4,357.9 249.7,355.3 250,352.2 250.3,349.1 250.6,346.4 250.9,344.9 251.2,345 251.6,345.9 251.9,347.6 252.2,349.8 252.5,352.2 252.8,354.7 253.1,357.1 253.4,359.3 253.8,361.1 254.1,362.5 254.4,363.5 254.7,364.2 255,364.7 255.3,365 255.6,365.2 256,365.2 256,365.4 243.7,368.8" fill="#3a36a8" stroke="#401818" stroke-width="0.3"/>
<polygon points="227,373.2 227.3,373.1 227.7,373 228,372.9 228.3,372.8 228.6,372.7 228.9,372.5 229.2,372.4 229.5,372.3 229.9,372.1 230.2,372 230.5,371.8 230.8,371.6 231.1,371.4 231.4,371.2 231.7,370.9 232.1,370.7 232.4,370.4 232.7,370 233,369.7 233.3,369.3 233.6,368.9 233.9,368.4 234.3,367.9 234.6,367.4 234.9,366.8 235.2,366.2 235.5,365.6 235.8,365 236.1,364.3 236.5,363.6 236.8,363 237.1,362.4 237.4,361.9 237.7,361.5 238,361.3 238.4,361.1 238.7,361.1 239,361.2 239.3,361.3 239.6,361.4 239.9,361.4 240.2,361.4 240.6,361.3 240.9,361.1 241.2,360.7 241.5,360.2 241.8,359.5 242.1,358.7 242.4,357.9 242.8,357.2 243.1,356.7 243.4,356.5 243.7,356.7 244,357.3 244.3,358.3 244.6,359.5 245,360.9 245.3,362.3 245.6,363.5 245.9,364.6 246.2,365.5 246.5,366.3 246.8,366.8 247.2,367.1 247.5,367.3 247.8,367.4 247.8,367.7 227,373.5" fill="#f42a22" stroke="#401818" stroke-width="0.3"/>
<polygon points="235.7,376.6 285.7,362.6 285.7,365 235.7,379" fill="#fff"/>
<path d="M235.7 379 L285.7 365" stroke="#3a36a8" stroke-width="0.8"/>
<path d="M235.7 376.6 L285.7 362.6" stroke="#d83030" stroke-width="0.8"/>
<polygon points="254.3,371.1 254.6,371 254.9,370.9 255.2,370.8 255.5,370.6 255.8,370.5 256.1,370.4 256.5,370.2 256.8,370 257.1,369.8 257.4,369.6 257.7,369.3 258,368.9 258.3,368.4 258.7,367.7 259,366.8 259.3,365.6 259.6,364.1 259.9,362.2 260.2,360 260.5,357.5 260.9,354.7 261.2,351.8 261.5,349.3 261.8,347.9 262.1,347.9 262.4,348.6 262.7,350 263.1,351.9 263.4,354.1 263.7,356.4 264,358.7 264.3,360.8 264.6,362.6 264.9,364.1 265.3,365.3 265.6,366.2 265.9,366.8 266.2,367.2 266.5,367.4 266.8,367.6 267.1,367.6 267.1,367.8 254.3,371.4" fill="#3a36a8" stroke="#401818" stroke-width="0.3"/>
<polygon points="237.6,375.8 237.9,375.7 238.2,375.6 238.5,375.5 238.8,375.4 239.2,375.2 239.5,375.1 239.8,375 240.1,374.9 240.4,374.7 240.7,374.6 241,374.5 241.4,374.3 241.7,374.1 242,373.9 242.3,373.7 242.6,373.5 242.9,373.2 243.2,372.9 243.6,372.6 243.9,372.3 244.2,372 244.5,371.6 244.8,371.2 245.1,370.7 245.4,370.2 245.8,369.7 246.1,369.2 246.4,368.6 246.7,368 247,367.4 247.3,366.8 247.6,366.2 248,365.6 248.3,365.1 248.6,364.7 248.9,364.4 249.2,364.2 249.5,364.1 249.9,364 250.2,363.9 250.5,363.8 250.8,363.6 251.1,363.3 251.4,363 251.7,362.5 252.1,361.9 252.4,361.1 252.7,360.3 253,359.3 253.3,358.4 253.6,357.5 253.9,356.9 254.3,356.6 254.6,356.8 254.9,357.4 255.2,358.4 255.5,359.7 255.8,361.2 256.1,362.8 256.5,364.3 256.8,365.6 257.1,366.8 257.4,367.8 257.7,368.5 258,369 258.3,369.4 258.7,369.6 259,369.8 259.3,369.8 259.3,370 237.6,376.1" fill="#f42a22" stroke="#401818" stroke-width="0.3"/>
<polygon points="247.7,378.9 297.7,364.9 297.7,367.3 247.7,381.3" fill="#fff"/>
<path d="M247.7 381.3 L297.7 367.3" stroke="#3a36a8" stroke-width="0.8"/>
<path d="M247.7 378.9 L297.7 364.9" stroke="#d83030" stroke-width="0.8"/>
<polygon points="266.6,373.3 266.9,373.2 267.2,373.1 267.5,373 267.8,372.8 268.1,372.7 268.5,372.6 268.8,372.4 269.1,372.2 269.4,372 269.7,371.7 270,371.3 270.3,370.8 270.7,370.2 271,369.3 271.3,368.2 271.6,366.8 271.9,365 272.2,363 272.5,360.6 272.9,358 273.2,355.3 273.5,353 273.8,351.7 274.1,351.7 274.4,352.4 274.7,353.6 275.1,355.4 275.4,357.4 275.7,359.6 276,361.7 276.3,363.6 276.6,365.3 276.9,366.7 277.3,367.8 277.6,368.6 277.9,369.2 278.2,369.5 278.5,369.8 278.8,369.9 278.8,370.2 266.6,373.6" fill="#3a36a8" stroke="#401818" stroke-width="0.3"/>
<polygon points="249.9,378 250.2,377.9 250.5,377.8 250.8,377.7 251.2,377.6 251.5,377.4 251.8,377.3 252.1,377.2 252.4,377.1 252.7,376.9 253,376.8 253.4,376.6 253.7,376.4 254,376.2 254.3,376 254.6,375.8 254.9,375.5 255.2,375.3 255.6,375 255.9,374.6 256.2,374.3 256.5,373.9 256.8,373.5 257.1,373 257.4,372.5 257.8,372 258.1,371.5 258.4,370.9 258.7,370.3 259,369.7 259.3,369.1 259.6,368.5 260,368 260.3,367.5 260.6,367.1 260.9,366.9 261.2,366.7 261.5,366.5 261.9,366.5 262.2,366.4 262.5,366.3 262.8,366.2 263.1,366 263.4,365.7 263.7,365.3 264.1,364.8 264.4,364.1 264.7,363.3 265,362.5 265.3,361.6 265.6,360.8 265.9,360.3 266.3,360 266.6,360.2 266.9,360.8 267.2,361.7 267.5,362.9 267.8,364.3 268.1,365.7 268.5,367.1 268.8,368.3 269.1,369.4 269.4,370.3 269.7,370.9 270,371.4 270.3,371.8 270.7,372 271,372.1 271.3,372.1 271.3,372.3 249.9,378.3" fill="#f42a22" stroke="#401818" stroke-width="0.3"/>
<polygon points="260.7,381.2 310.7,367.2 310.7,369.6 260.7,383.6" fill="#fff"/>
<path d="M260.7 383.6 L310.7 369.6" stroke="#3a36a8" stroke-width="0.8"/>
<path d="M260.7 381.2 L310.7 367.2" stroke="#d83030" stroke-width="0.8"/>
<polygon points="282.7,374.8 283,374.6 283.3,374.5 283.7,374.4 284,374.3 284.3,374.1 284.6,374 284.9,373.8 285.2,373.7 285.5,373.5 285.9,373.2 286.2,372.9 286.5,372.4 286.8,371.9 287.1,371.2 287.4,370.2 287.7,369.1 288.1,367.7 288.4,366.1 288.7,364.2 289,362 289.3,359.8 289.6,357.5 289.9,355.7 290.3,354.8 290.6,354.9 290.9,355.6 291.2,356.7 291.5,358.2 291.8,359.9 292.1,361.7 292.5,363.5 292.8,365.2 293.1,366.7 293.4,368 293.7,369 294,369.8 294.3,370.3 294.7,370.7 295,371 295.3,371.1 295.6,371.2 295.6,371.4 282.7,375" fill="#3a36a8" stroke="#401818" stroke-width="0.3"/>
<polygon points="263.8,380 264.2,379.9 264.5,379.8 264.8,379.7 265.1,379.6 265.4,379.5 265.7,379.4 266,379.2 266.4,379.1 266.7,379 267,378.8 267.3,378.6 267.6,378.5 267.9,378.3 268.2,378.1 268.6,377.8 268.9,377.6 269.2,377.3 269.5,377 269.8,376.7 270.1,376.4 270.4,376 270.8,375.6 271.1,375.1 271.4,374.6 271.7,374.1 272,373.6 272.3,373 272.6,372.5 273,371.9 273.3,371.3 273.6,370.7 273.9,370.1 274.2,369.6 274.5,369.2 274.9,368.9 275.2,368.7 275.5,368.6 275.8,368.5 276.1,368.5 276.4,368.5 276.7,368.4 277.1,368.3 277.4,368.1 277.7,367.8 278,367.3 278.3,366.8 278.6,366.1 278.9,365.3 279.3,364.4 279.6,363.6 279.9,362.9 280.2,362.4 280.5,362.2 280.8,362.4 281.1,363 281.5,363.9 281.8,365 282.1,366.2 282.4,367.5 282.7,368.8 283,370 283.3,371.1 283.7,371.9 284,372.6 284.3,373.1 284.6,373.5 284.9,373.8 285.2,373.9 285.5,374 285.5,374.2 263.8,380.3" fill="#f42a22" stroke="#401818" stroke-width="0.3"/>
<polygon points="275,383.5 325,369.5 325,371.9 275,385.9" fill="#fff"/>
<path d="M275 385.9 L325 371.9" stroke="#3a36a8" stroke-width="0.8"/>
<path d="M275 383.5 L325 369.5" stroke="#d83030" stroke-width="0.8"/>
<polygon points="295.8,377.4 296.1,377.3 296.4,377.2 296.7,377.1 297,376.9 297.3,376.8 297.6,376.7 298,376.6 298.3,376.4 298.6,376.3 298.9,376.1 299.2,375.9 299.5,375.7 299.8,375.5 300.2,375.2 300.5,374.9 300.8,374.5 301.1,374.1 301.4,373.5 301.7,372.9 302,372.2 302.4,371.4 302.7,370.5 303,369.4 303.3,368.3 303.6,367 303.9,365.7 304.2,364.3 304.6,362.9 304.9,361.6 305.2,360.5 305.5,359.7 305.8,359.4 306.1,359.4 306.4,359.6 306.8,360 307.1,360.3 307.4,360.4 307.7,360.2 308,360 308.3,360 308.6,360.6 309,361.3 309.3,362.1 309.6,362.9 309.9,363.8 310.2,364.7 310.5,365.7 310.8,366.7 311.2,367.6 311.5,368.5 311.8,369.3 312.1,370 312.4,370.6 312.7,371.1 313.1,371.4 313.4,371.7 313.7,371.9 314,372.1 314.3,372.1 314.6,372.2 314.6,372.4 295.8,377.7" fill="#3a36a8" stroke="#401818" stroke-width="0.3"/>
<polygon points="280,381.8 280.3,381.7 280.7,381.6 281,381.5 281.3,381.4 281.6,381.2 281.9,381.1 282.2,381 282.5,380.8 282.9,380.7 283.2,380.5 283.5,380.3 283.8,380.1 284.1,379.9 284.4,379.6 284.7,379.4 285.1,379.1 285.4,378.8 285.7,378.5 286,378.1 286.3,377.7 286.6,377.3 286.9,376.9 287.3,376.4 287.6,375.9 287.9,375.4 288.2,374.9 288.5,374.4 288.8,373.9 289.2,373.5 289.5,373.1 289.8,372.8 290.1,372.6 290.4,372.5 290.7,372.4 291,372.5 291.4,372.6 291.7,372.7 292,372.9 292.3,373 292.6,373 292.9,373 293.2,372.8 293.6,372.6 293.9,372.2 294.2,371.7 294.5,371.2 294.8,370.5 295.1,369.8 295.4,369 295.8,368.3 296.1,367.6 296.4,367.1 296.7,366.8 297,366.8 297.3,367 297.6,367.5 298,368.3 298.3,369.1 298.6,370.1 298.9,371 299.2,372 299.5,372.9 299.8,373.6 300.2,374.2 300.5,374.7 300.8,375.1 301.1,375.4 301.4,375.5 301.7,375.6 302,375.7 302,375.9 280,382.1" fill="#f42a22" stroke="#401818" stroke-width="0.3"/>
<text x="219.4" y="380" font-size="6.8" fill="#333" text-anchor="middle" font-weight="normal"  stroke="#333" stroke-width="0.2">0</text>
<text x="243.4" y="384.4" font-size="6.8" fill="#333" text-anchor="middle" font-weight="normal"  stroke="#333" stroke-width="0.2">50</text>
<text x="266.3" y="388.8" font-size="6.8" fill="#333" text-anchor="middle" font-weight="normal"  stroke="#333" stroke-width="0.2">100</text>
<text x="296.8" y="387.2" font-size="6.8" fill="#333" text-anchor="middle" font-weight="normal"  stroke="#333" stroke-width="0.2">290</text>
<text x="312.1" y="382.7" font-size="6.8" fill="#333" text-anchor="middle" font-weight="normal"  stroke="#333" stroke-width="0.2">285</text>
<text x="328.5" y="377.9" font-size="6.8" fill="#333" text-anchor="middle" font-weight="normal"  stroke="#333" stroke-width="0.2">280</text>
<text x="204.3" y="396.6" font-size="6.6" fill="#333" text-anchor="start" font-weight="normal" textLength="77" lengthAdjust="spacingAndGlyphs" stroke="#333" stroke-width="0.2">Thickness above Silicon (nm)</text>
<text x="291" y="396.6" font-size="6.6" fill="#333" text-anchor="start" font-weight="normal"  stroke="#333" stroke-width="0.2">Binding Energy (eV)</text>
<path d="M378 49.3 L378 94.6" stroke="#888" stroke-width="0.6"/>
<path d="M378 58.5 h-1.5 M378 70.6 h-1.5 M378 83 h-1.5 M378 94.3 h-1.5 " stroke="#888" stroke-width="0.5"/>
<text x="374.2" y="60.7" font-size="6.3" fill="#383838" text-anchor="end" font-weight="normal"  stroke="#383838" stroke-width="0.2">15000</text>
<text x="374.2" y="72.8" font-size="6.3" fill="#383838" text-anchor="end" font-weight="normal"  stroke="#383838" stroke-width="0.2">10000</text>
<text x="374.2" y="85.2" font-size="6.3" fill="#383838" text-anchor="end" font-weight="normal"  stroke="#383838" stroke-width="0.2">5000</text>
<text x="374.2" y="96.5" font-size="6.3" fill="#383838" text-anchor="end" font-weight="normal"  stroke="#383838" stroke-width="0.2">0</text>
<text x="413.1" y="34.2" font-size="8.6" fill="#3a3a3a" text-anchor="start" font-weight="bold" stroke="#3a3a3a" stroke-width="0.15" textLength="12.7" lengthAdjust="spacingAndGlyphs">C1s</text>
<text x="0" y="0" font-size="5.6" fill="#383838" text-anchor="middle" font-weight="normal" transform="translate(352 72.9) rotate(-90)" textLength="23" lengthAdjust="spacingAndGlyphs" stroke="#383838" stroke-width="0.2">counts/s</text>
<text x="369.6" y="102.4" font-size="6.3" fill="#383838" text-anchor="middle" font-weight="normal"  stroke="#383838" stroke-width="0.2">100</text>
<text x="390" y="103.9" font-size="6.3" fill="#383838" text-anchor="middle" font-weight="normal"  stroke="#383838" stroke-width="0.2">80</text>
<text x="409.5" y="106.4" font-size="6.3" fill="#383838" text-anchor="middle" font-weight="normal"  stroke="#383838" stroke-width="0.2">60</text>
<text x="430.8" y="107.9" font-size="6.3" fill="#383838" text-anchor="middle" font-weight="normal"  stroke="#383838" stroke-width="0.2">40</text>
<text x="450.7" y="109.8" font-size="6.3" fill="#383838" text-anchor="middle" font-weight="normal"  stroke="#383838" stroke-width="0.2">20</text>
<text x="471.7" y="111.5" font-size="6.3" fill="#383838" text-anchor="middle" font-weight="normal"  stroke="#383838" stroke-width="0.2">0</text>
<text x="487" y="109.8" font-size="6.3" fill="#383838" text-anchor="middle" font-weight="normal"  stroke="#383838" stroke-width="0.2">295</text>
<text x="504" y="103.2" font-size="6.3" fill="#383838" text-anchor="middle" font-weight="normal"  stroke="#383838" stroke-width="0.2">290</text>
<text x="522.4" y="94.9" font-size="6.3" fill="#383838" text-anchor="middle" font-weight="normal"  stroke="#383838" stroke-width="0.2">285</text>
<text x="366" y="115.9" font-size="6.3" fill="#383838" text-anchor="start" font-weight="normal" textLength="79" lengthAdjust="spacingAndGlyphs" stroke="#383838" stroke-width="0.2">Thickness above Silicon (nm)</text>
<text x="483" y="116.7" font-size="6.3" fill="#383838" text-anchor="start" font-weight="normal" textLength="53.6" lengthAdjust="spacingAndGlyphs" stroke="#383838" stroke-width="0.2">Binding Energy (eV)</text>
<g fill="#fff" stroke="#352e2e" stroke-width="0.8" stroke-linejoin="round">
<path d="M378 94.6 378 93.9 397.3 85.7 400.8 83.9 402.1 82.8 403.3 81.6 407 75.8 409.3 73 410.1 70.8 410.9 65.7 413 36.5 413.4 33.3 413.6 32.5 413.8 32.4 414.2 34.1 414.6 38 416.5 66.9 417.5 73.9 418.1 75.5 418.5 76 419.1 76.2 420.2 75.9 424.5 74.1 424.5 74.8"/>
<path d="M381 94.9 381 94.2 400.3 86 403.8 84.2 406.3 82.1 410 77.2 412.4 74.8 413.1 73 413.9 68.8 416.1 45.2 416.5 42.6 416.8 41.9 417.2 43.2 417.6 46.3 419.6 69.3 420.5 74.8 421.1 76 421.5 76.4 422.1 76.5 423.3 76.2 427.5 74.4 427.5 75.1"/>
<path d="M384.1 95.1 384.1 94.4 403.4 86.2 406.9 84.5 409.4 82.7 413.1 78.5 415.4 76.3 416.2 74.8 417 71.4 419.1 52.6 419.5 50.5 419.9 49.9 420.3 50.9 420.7 53.3 422.6 71.3 423.6 75.6 424.2 76.5 424.6 76.8 425.1 76.8 430.6 74.6 430.6 75.3"/>
<path d="M387.1 95.4 387.1 94.7 409.9 84.9 412.4 83.2 416.1 79.6 418.5 77.7 419.2 76.5 420 73.8 422.2 59.2 422.5 57.6 422.9 57.1 423.3 57.8 423.7 59.6 425.7 73.2 426.6 76.3 427.2 77 428.2 77.1 433.6 74.9 433.6 75.6"/>
<path d="M390.2 95.7 390.2 95 412.9 85.1 415.5 83.6 419.2 80.5 421.5 78.8 422.3 77.8 423.1 75.7 425.2 64.3 425.6 63.1 426 62.6 426.4 63.1 426.8 64.5 428.7 74.6 429.7 77 430.3 77.4 431.2 77.4 436.7 75.2 436.7 75.9"/>
<path d="M393.2 95.9 393.2 95.2 416 85.4 418.5 84.1 424.6 80 425.3 79.2 426.1 77.6 428.2 69.6 428.6 68.6 429 68.3 429.4 68.6 429.8 69.4 431.8 76.1 432.7 77.6 433.3 77.8 434.3 77.7 439.7 75.4 439.7 76.1"/>
<path d="M396.3 96.2 396.3 95.5 419 85.7 421.6 84.4 427.6 80.6 428.4 79.9 429.2 78.6 431.3 72 431.7 71.2 432.1 70.9 432.5 71.1 432.9 71.8 434.8 76.9 435.8 78 436.4 78.1 437.3 78 442.8 75.7 442.8 76.4"/>
<path d="M399.3 96.4 399.3 95.7 422.1 86 424.6 84.6 430.6 80.4 431.4 79.6 432.2 77.9 434.3 69.4 434.7 68.4 435.1 68.1 435.5 68.4 435.9 69.3 437.8 76.5 438.8 78.1 439.4 78.3 440.4 78.2 445.8 75.9 445.8 76.6"/>
<path d="M402.4 96.7 402.4 96 425.1 86.2 427.7 84.6 431.4 81.2 433.7 79.4 434.5 78.3 435.2 75.9 437.4 62.8 437.8 61.3 438.2 60.8 438.6 61.5 438.9 63.1 440.9 75 441.9 77.8 442.4 78.4 443.4 78.4 448.9 76.2 448.9 76.9"/>
<path d="M405.4 97 405.4 96.3 424.7 88.1 428.2 86.4 430.7 84.5 434.4 80.4 436.7 78.3 437.5 76.8 438.3 73.5 440.4 55 440.8 52.9 441.2 52.3 441.6 53.3 442 55.6 443.9 73.3 444.9 77.5 445.5 78.4 446.5 78.6 451.9 76.5 451.9 77.2"/>
<path d="M408.5 97.2 408.5 96.5 427.7 88.3 431.2 86.6 433.7 84.6 437.4 80 439.8 77.7 440.6 76 441.3 72.2 443.5 50.7 443.9 48.3 444.3 47.6 444.6 48.8 445 51.6 447 72.4 448 77.4 448.5 78.5 448.9 78.8 449.5 78.9 455 76.7 455 77.4"/>
<path d="M411.5 97.5 411.5 96.8 430.8 88.6 434.3 86.9 436.8 84.8 440.5 80.1 442.8 77.8 443.6 76 444.4 72.1 446.5 49.8 446.9 47.4 447.3 46.7 447.7 47.9 448.1 50.8 450 72.4 451 77.6 451.6 78.7 452 79 452.6 79.1 458 77 458 77.7"/>
<path d="M414.5 97.8 414.5 97.1 433.8 88.9 437.3 87.1 439.8 85.1 443.5 80.4 445.9 78 446.6 76.3 447.4 72.3 449.6 50 450 47.5 450.3 46.8 450.7 48.1 451.1 51 453.1 72.6 454 77.8 454.6 79 455 79.3 455.6 79.4 461 77.3 461 78"/>
<path d="M417.6 98 417.6 97.3 436.9 89.1 440.4 87.4 442.9 85.4 446.6 80.7 448.9 78.3 449.7 76.6 450.5 72.6 452.6 50.4 453 47.9 453.4 47.3 453.8 48.5 454.2 51.4 456.1 72.9 457.1 78.1 457.7 79.3 458.1 79.6 458.6 79.7 464.1 77.5 464.1 78.2"/>
<path d="M420.6 98.3 420.6 97.6 439.9 89.4 443.4 87.7 445.9 85.7 449.6 81 452 78.6 452.7 76.9 453.5 73 455.7 51 456 48.6 456.4 47.9 456.8 49.1 457.2 51.9 459.2 73.3 460.1 78.4 460.7 79.5 461.1 79.8 461.7 79.9 467.1 77.8 467.1 78.5"/>
<path d="M423.7 98.6 423.7 97.9 442.9 89.6 446.4 87.9 449 85.9 452.7 81.3 455 79 455.8 77.3 456.6 73.4 458.7 51.6 459.1 49.3 459.5 48.6 459.9 49.8 460.3 52.6 462.2 73.6 463.2 78.7 463.8 79.8 464.2 80.1 464.7 80.2 470.2 78.1 470.2 78.8"/>
<path d="M426.7 98.8 426.7 98.1 446 89.9 449.5 88.2 452 86.3 455.7 82.1 458.1 79.9 458.8 78.4 459.6 75 461.7 55.8 462.1 53.7 462.5 53.1 462.9 54.1 463.3 56.5 465.3 74.9 466.2 79.2 466.8 80.2 467.2 80.4 467.8 80.5 473.2 78.3 473.2 79"/>
<path d="M429.8 99.1 429.8 98.4 452.5 88.5 455.1 86.8 458.8 83.1 461.1 81.1 461.9 79.8 462.7 77 464.8 61.4 465.2 59.6 465.6 59.1 466 59.9 466.4 61.8 468.3 76.5 469.3 79.9 469.9 80.6 470.8 80.8 476.3 78.6 476.3 79.3"/>
<path d="M432.8 99.3 432.8 98.6 455.6 88.8 458.1 87.3 461.8 84.1 464.1 82.4 464.9 81.4 465.7 79.2 467.8 67.6 468.2 66.2 468.6 65.8 469 66.3 469.4 67.7 471.3 78.2 472.3 80.6 472.9 81.1 473.9 81.1 479.3 78.8 479.3 79.5"/>
<path d="M435.9 99.6 435.9 98.9 458.6 89.1 461.2 87.7 467.2 83.5 468 82.7 468.7 81.1 470.9 72.5 471.3 71.5 471.7 71.2 472.1 71.5 472.4 72.4 474.4 79.6 475.4 81.2 475.9 81.5 476.9 81.4 482.4 79.1 482.4 79.8"/>
<path d="M438.9 99.9 438.9 99.2 461.7 89.4 464.2 88 470.2 83.9 471 83.1 471.8 81.6 473.9 73.4 474.3 72.5 474.7 72.2 475.1 72.5 475.5 73.3 477.4 80.1 478.4 81.5 479 81.8 480 81.6 485.4 79.4 485.4 80.1"/>
<path d="M442 100.1 442 99.4 464.7 89.6 467.2 88.1 470.9 85 473.3 83.4 474.1 82.4 474.8 80.3 477 69.1 477.4 67.9 477.8 67.4 478.1 67.9 478.5 69.2 480.5 79.2 481.5 81.5 482 81.9 483 81.9 488.5 79.6 488.5 80.3"/>
<path d="M445 100.4 445 99.7 467.8 89.8 470.3 88.1 474 84.4 476.3 82.4 477.1 81.1 477.9 78.3 480 62.5 480.4 60.8 480.8 60.2 481.2 61 481.6 63 483.5 77.7 484.5 81.2 485.1 81.9 486.1 82.1 491.5 79.9 491.5 80.6"/>
<path d="M448 100.7 448 100 467.3 91.8 470.8 90.1 473.3 88.2 477 84 479.4 81.8 480.1 80.3 480.9 76.9 483.1 58 483.5 55.9 483.8 55.3 484.2 56.3 484.6 58.8 486.6 76.8 487.5 81.1 488.1 82.1 488.5 82.3 489.1 82.3 494.5 80.2 494.5 80.9"/>
<path d="M451.1 100.9 451.1 100.2 470.4 92 473.9 90.3 476.4 88.4 480.1 83.9 482.4 81.6 483.2 79.9 484 76.2 486.1 55.4 486.5 53.1 486.9 52.4 487.3 53.6 487.7 56.3 489.6 76.4 490.6 81.2 491.2 82.2 491.6 82.5 492.1 82.6 497.6 80.4 497.6 81.1"/>
<path d="M454.1 101.2 454.1 100.5 473.4 92.3 476.9 90.6 479.4 88.6 483.1 83.9 485.5 81.6 486.2 79.9 487 76 489.2 54.2 489.5 51.8 489.9 51.1 490.3 52.3 490.7 55.1 492.7 76.2 493.6 81.3 494.2 82.4 494.6 82.7 495.2 82.8 500.6 80.7 500.6 81.4"/>
<path d="M457.2 101.5 457.2 100.8 476.4 92.5 479.9 90.8 482.5 88.8 486.2 84.2 488.5 81.8 489.3 80.1 490.1 76.2 492.2 54.2 492.6 51.7 493 51.1 493.4 52.2 493.8 55.1 495.7 76.4 496.7 81.5 497.3 82.7 497.7 83 498.2 83.1 503.7 81 503.7 81.7"/>
<path d="M460.2 101.7 460.2 101 479.5 92.8 483 91.1 485.5 89.1 489.2 84.5 491.6 82.1 492.3 80.4 493.1 76.5 495.2 54.7 495.6 52.3 496 51.6 496.4 52.8 496.8 55.7 498.8 76.8 499.7 81.8 500.3 83 500.7 83.3 501.3 83.4 506.7 81.2 506.7 81.9"/>
<path d="M463.3 102 463.3 101.3 482.5 93.1 486 91.4 488.6 89.4 492.3 84.9 494.6 82.7 495.4 81 496.2 77.3 498.3 56.5 498.7 54.2 499.1 53.6 499.5 54.7 499.9 57.4 501.8 77.4 502.8 82.2 503.4 83.3 503.7 83.6 504.3 83.6 509.8 81.5 509.8 82.2"/>
<path d="M466.3 102.2 466.3 101.5 485.6 93.3 489.1 91.7 491.6 89.8 495.3 85.5 497.6 83.3 498.4 81.8 499.2 78.4 501.3 59.2 501.7 57 502.1 56.4 502.5 57.4 502.9 59.9 504.8 78.3 505.8 82.7 506.4 83.6 506.8 83.9 507.4 83.9 512.8 81.7 512.8 82.4"/>
<path d="M469.4 102.5 469.4 101.8 488.6 93.6 492.1 91.9 494.7 90.2 498.4 86.3 500.7 84.2 501.5 82.9 502.2 79.8 504.4 63 504.8 61.1 505.2 60.6 505.6 61.4 505.9 63.6 507.9 79.4 508.9 83.2 509.4 84 510.4 84.2 515.9 82 515.9 82.7"/>
<path d="M472.4 102.8 472.4 102.1 495.2 92.2 497.7 90.5 501.4 87 503.7 85.1 504.5 83.8 505.3 81.2 507.4 66.5 507.8 64.9 508.2 64.4 508.6 65.1 509 66.9 510.9 80.5 511.9 83.7 512.5 84.4 513.5 84.5 518.9 82.3 518.9 83"/>
<path d="M475.5 103 475.5 102.3 498.2 92.5 500.7 90.9 504.4 87.5 506.8 85.8 507.6 84.6 508.3 82.3 510.5 69.2 510.9 67.8 511.3 67.3 511.6 67.9 512 69.5 514 81.4 515 84.1 515.5 84.7 516.5 84.8 522 82.5 522 83.2"/>
<path d="M478.5 103.3 478.5 102.6 501.3 92.8 503.8 91.3 507.5 88.2 509.8 86.6 510.6 85.6 511.4 83.6 513.5 72.6 513.9 71.4 514.3 71 514.7 71.4 515.1 72.7 517 82.4 518 84.6 518.6 85.1 519.6 85 525 82.8 525 83.5"/>
</g>
<polyline points="378,94.6 478.5,103.3 525,83.5" fill="none" stroke="#666" stroke-width="0.55"/>
<path d="M377.5 144.2 L377.5 198" stroke="#888" stroke-width="0.6"/>
<path d="M377.5 155.3 h-1.5 M377.5 169.9 h-1.5 M377.5 183.8 h-1.5 M377.5 197.5 h-1.5 " stroke="#888" stroke-width="0.5"/>
<text x="373.7" y="157.5" font-size="6.3" fill="#383838" text-anchor="end" font-weight="normal"  stroke="#383838" stroke-width="0.2">600</text>
<text x="373.7" y="172.1" font-size="6.3" fill="#383838" text-anchor="end" font-weight="normal"  stroke="#383838" stroke-width="0.2">400</text>
<text x="373.7" y="185.9" font-size="6.3" fill="#383838" text-anchor="end" font-weight="normal"  stroke="#383838" stroke-width="0.2">200</text>
<text x="373.7" y="199.7" font-size="6.3" fill="#383838" text-anchor="end" font-weight="normal"  stroke="#383838" stroke-width="0.2">0</text>
<text x="414.2" y="137.4" font-size="8.6" fill="#3a3a3a" text-anchor="start" font-weight="bold" stroke="#3a3a3a" stroke-width="0.15" textLength="13.8" lengthAdjust="spacingAndGlyphs">Li1s</text>
<text x="0" y="0" font-size="5.6" fill="#383838" text-anchor="middle" font-weight="normal" transform="translate(358.75 176.1) rotate(-90)" textLength="23" lengthAdjust="spacingAndGlyphs" stroke="#383838" stroke-width="0.2">counts/s</text>
<text x="372.7" y="206.2" font-size="6.3" fill="#383838" text-anchor="middle" font-weight="normal"  stroke="#383838" stroke-width="0.2">100</text>
<text x="389" y="207.6" font-size="6.3" fill="#383838" text-anchor="middle" font-weight="normal"  stroke="#383838" stroke-width="0.2">80</text>
<text x="411" y="209" font-size="6.3" fill="#383838" text-anchor="middle" font-weight="normal"  stroke="#383838" stroke-width="0.2">60</text>
<text x="432.7" y="210.4" font-size="6.3" fill="#383838" text-anchor="middle" font-weight="normal"  stroke="#383838" stroke-width="0.2">40</text>
<text x="451.8" y="212.6" font-size="6.3" fill="#383838" text-anchor="middle" font-weight="normal"  stroke="#383838" stroke-width="0.2">20</text>
<text x="472.8" y="214.5" font-size="6.3" fill="#383838" text-anchor="middle" font-weight="normal"  stroke="#383838" stroke-width="0.2">0</text>
<text x="500.3" y="208.1" font-size="6.3" fill="#383838" text-anchor="middle" font-weight="normal"  stroke="#383838" stroke-width="0.2">60</text>
<text x="516.3" y="201.2" font-size="6.3" fill="#383838" text-anchor="middle" font-weight="normal"  stroke="#383838" stroke-width="0.2">55</text>
<text x="532.7" y="194" font-size="6.3" fill="#383838" text-anchor="middle" font-weight="normal"  stroke="#383838" stroke-width="0.2">50</text>
<text x="366" y="217.2" font-size="6.3" fill="#383838" text-anchor="start" font-weight="normal" textLength="79" lengthAdjust="spacingAndGlyphs" stroke="#383838" stroke-width="0.2">Thickness above Silicon (nm)</text>
<text x="484.3" y="217" font-size="6.3" fill="#383838" text-anchor="start" font-weight="normal" textLength="54.2" lengthAdjust="spacingAndGlyphs" stroke="#383838" stroke-width="0.2">Binding Energy (eV)</text>
<g fill="#fff" stroke="#352e2e" stroke-width="0.8" stroke-linejoin="round">
<path d="M377.5 198 377.5 184.3 380.1 183.2 382.6 181.3 385.6 177.8 387 176.7 388.4 176.2 390.3 176.7 391.1 176.5 393.7 174.3 396.3 172.8 397.1 172.7 398.6 173.2 399.2 173 400.2 171.8 402.8 167.4 403.4 166.8 404.2 166.3 404.8 166.3 405.3 166.8 407.5 170.5 408.5 171.4 409.3 171.5 410.3 170.9 412.3 168.2 413.2 167.5 414.2 167.8 416.4 170.1 417 170.5 417.4 170.4 418 170 418.8 168.4 420.9 161.9 421.7 160.3 422.3 159.8 423.1 159.8 423.7 160.1 424.7 161.1 424.7 179.5"/>
<path d="M380.6 198.3 380.6 183.3 382 182.4 383.2 181.2 384.2 180.6 385.3 180.2 386.9 180.2 387.9 180 390.5 176.9 392.8 176.7 394.4 176.1 395.4 175.1 397 172.6 397.8 171.9 398.4 171.9 399 172.1 401.5 174.7 402.1 174.9 402.7 174.7 403.7 173.3 406.3 167.2 407.9 164.6 408.6 163.8 409.2 163.8 409.8 164.4 413 169.6 413.8 170.6 414.4 170.8 415 170.7 415.6 170.2 417.5 167.2 418.5 166.3 419.9 166.3 421.7 167.4 422.5 167.5 423.3 167 424.8 164.7 425.6 164.3 426.6 164.6 427.8 166 427.8 179.8"/>
<path d="M383.7 198.5 383.7 183.6 387.6 182.8 390.2 181.8 391.4 181.8 393.4 182.2 394.8 181.6 395.5 180.7 396.5 179.1 399.3 172.4 400.3 170.6 401.1 169.6 402.9 167.8 405.2 164.5 406.4 163.3 407 163.2 407.6 163.4 409.6 165.3 410.4 165.8 411.2 166 412.3 165.9 413.1 166.3 414.1 167.3 416.3 170.6 416.9 171.2 417.5 171.4 418.7 170.9 421 169 423.2 168.2 424.2 167.5 425.4 165.6 427.1 161.3 427.9 160.3 428.5 160.1 429.1 160.3 430.9 162 430.9 180"/>
<path d="M386.8 198.8 386.8 183.9 388.6 183.9 390.7 185.2 391.3 185.1 391.7 184.8 392.3 184 393.1 182.3 395.3 176 396.1 174.6 396.5 174.3 397.3 174.5 398.1 175.2 401.2 180 402 180.3 402.6 180 403.6 178.4 405 175.3 410.5 160.9 411.5 158.9 412.3 158.1 412.9 158 413.5 158.3 415.2 160.3 416.2 160.9 417.4 160.7 419.6 159.4 420.4 159.4 421 159.6 422.3 161.4 425.1 166.7 426.1 167.8 427.1 168.3 427.9 168.1 428.7 167.3 430.8 163.2 431.6 162.1 432.2 161.8 432.8 161.9 434 163 434 180.3"/>
<path d="M389.9 199 389.9 185.7 391.3 185.5 392.3 186 393.3 186.2 394 185.9 394.8 185.3 397 182 398.2 179.6 400 175 401 173.6 401.6 173.4 402.1 173.5 404.9 175.4 405.5 175.4 406.1 174.9 407.5 172.6 411.8 162.4 413 160.3 413.8 159.4 415 159.2 416.8 160 417.5 160.2 420.3 159.5 422.7 159.5 423.5 159.8 424.3 160.5 425.1 161.6 428.2 168.1 429.8 170 430.4 170.4 430.8 170.5 431.8 169.9 432.8 168.5 435.7 161.1 437.1 158.7 437.1 180.5"/>
<path d="M393 199.3 393 184.9 394.8 184.2 395.8 183.5 396.9 182 398.5 179.2 399.1 178.6 399.5 178.5 400.1 178.9 400.7 179.9 402.5 184.8 403.1 185.8 403.7 186.2 404.1 186 404.5 185.5 407.2 178.3 409.6 174 411.2 170.1 414.3 159.9 417.3 147.4 418.1 145.3 418.7 144.7 419.3 144.9 419.9 146 422.6 154.9 425.6 160.5 428.7 170.6 429.5 172.5 430.3 173.6 431.1 173.9 432.1 173 434.9 166.6 436.1 164.4 437 163.2 437.6 162.9 438.2 163.2 440.2 165.8 440.2 180.8"/>
<path d="M396.1 199.5 396.1 185.2 397.9 184.4 398.9 184.2 399.9 184.4 401.4 185.2 402.2 185.2 403 184.7 404.6 182.5 405.4 181.7 406.2 181.7 407.9 182.5 408.3 182.4 408.7 182 409.3 180.7 409.9 178.6 412.3 166.7 413.9 160.4 417.2 151.1 418.8 147.8 419.6 146.8 420.2 146.7 421 147.4 423.9 152.4 424.5 153.1 425.1 153.5 425.7 153.4 426.5 152.9 428.9 150 429.7 149.8 430.5 150.4 431.1 151.3 431.6 152.8 434.6 163.1 435.4 164.9 436 165.6 436.6 165.8 437 165.7 439.9 163.8 440.7 163.5 442.1 163.5 443.3 164.3 443.3 181"/>
<path d="M399.2 199.8 399.2 185.7 400.6 185.2 403.9 185.2 405.1 184.4 405.9 183 406.5 181.5 408.7 174.3 409.5 173.3 409.9 173.1 410.5 173.2 412.2 174.8 412.8 174.7 413.2 174.2 414.4 170.8 416.6 160.7 418 155.4 419.5 152 420.1 151.2 420.9 150.7 421.5 150.6 422.3 150.8 424.7 152.2 428.2 155.9 429.8 157.1 433.2 160.5 434 160.9 434.6 161 434.9 160.7 437.1 157.3 437.5 157 438.1 157 438.9 158.1 440.7 163.9 441.5 165.7 442.1 166.5 442.5 166.8 443 166.7 444.4 165.6 445.2 165.3 445.8 165.3 446.4 165.6 446.4 181.3"/>
<path d="M402.3 200 402.3 186.3 404.1 185.1 404.9 184.2 407.4 178.9 408.2 178.1 409 178 409.8 178.6 410.4 179.6 411.8 182.9 412.4 183.6 412.8 183.7 413.2 183.5 413.6 183 415.1 179.7 415.9 178.6 416.5 178.3 418.3 178 419.3 177.5 420.1 175.9 420.7 173.9 422.6 163.5 423.8 159.3 424.6 158.3 426.4 158 427.6 157 428.2 156.1 429.8 152.3 430.7 151.1 431.1 151 431.5 151.3 433.7 154.2 437.1 159.9 439.6 164.9 440.4 165.6 442 165.7 442.6 166.2 444.8 170.8 445.9 172.7 446.3 172.9 446.7 172.9 447.5 172.1 449.5 167.9 449.5 181.5"/>
<path d="M405.4 200.3 405.4 186.1 407 185.4 408 184.6 410.9 180.3 414.7 175.9 415.7 175.6 418.4 175.7 419.2 175.4 419.8 174.9 421 172.9 423.8 165.9 425.1 162.9 426.5 160.8 428.3 159.5 429.5 159.2 430.3 159.5 430.9 160 432.7 162.3 435.4 166.9 436 167.5 436.6 167.8 437.2 167.7 438 167 440.8 162.9 441.3 162.4 441.9 162.5 442.9 163.6 445.7 168.7 446.5 169.5 447.3 169.8 448.1 169.5 449 168.5 451.6 163.4 452.6 161.9 452.6 181.8"/>
<path d="M408.5 200.5 408.5 186.3 410.1 185.7 412.8 185 413.8 184.5 415.2 182.8 418 178 420.7 176.3 421.5 176.1 422.3 176.3 425.3 178.4 425.9 178.4 426.5 178.1 427.7 176.3 430.6 169.3 432 166.7 434.6 163.1 436.3 161.7 437.1 161.6 437.7 161.9 440.3 164.7 441.5 165.3 442.3 165 444.4 163 445.2 162.8 445.8 163 446.6 163.7 447.4 164.9 451 171.8 451.6 172.5 452.3 173.1 453.1 173.4 453.9 173.2 454.7 172.4 455.7 170.9 455.7 182"/>
<path d="M411.6 200.8 411.6 187 413.8 185.5 415.7 182.7 416.5 181.9 417.3 182 419.3 184.1 419.9 184.5 420.3 184.5 421.1 184 422.9 181 423.6 180.1 424.4 179.8 426 179.9 426.8 179.6 427.4 178.7 428 177.3 430.8 168.5 431.3 167.3 431.9 166.7 432.3 166.7 432.9 167.2 435.5 172.1 436.1 172.9 436.7 173.2 437.5 173 438.3 172.2 439.4 170.5 441.8 166.2 442.4 165.4 443 165 443.6 165.1 444.4 166 447 171.8 447.5 172.7 448.3 173.3 448.9 173.2 451.3 172.3 452.5 171.4 454.5 169.3 455.8 168.6 456.6 168.5 457.2 168.8 458.8 170.3 458.8 182.3"/>
<path d="M414.7 201 414.7 186.8 417.7 185.8 421.4 186.7 422.2 186.6 423 186.1 424.2 184.3 427.9 174.8 428.9 173 429.7 172.3 430.5 172.4 431.3 172.9 434.4 176.5 435 176.7 435.6 176.4 436.2 175.6 437 174 440 165.6 440.8 164.4 441.4 163.9 442.3 163.8 443.1 164.3 444.3 165.7 446.5 168.8 447.5 169.7 448.3 170 449.5 170 450.4 169.6 453.8 167.5 455.8 165.7 456.6 165.4 457.6 165.7 459.5 167.7 460.3 168.2 461.1 168.3 461.9 167.7 461.9 182.5"/>
<path d="M417.8 201.3 417.8 187.8 420.2 186.4 422.3 184.4 423.3 183.9 424.3 184.2 426.5 186.9 427.1 187.1 427.5 187 428.1 186.3 428.9 184.6 432.2 174.1 433 172.4 433.6 171.5 434.2 171 434.8 170.9 437.2 171.1 439.1 170.6 445.1 166.8 445.6 166.7 446.4 167.1 450.6 171 451.8 171.7 453.2 172.1 454.3 172.2 455.3 172 457.7 170.4 458.7 170 459.5 170.2 461.6 171.3 462.4 171.5 463.6 171.2 465 170 465 182.8"/>
<path d="M420.9 201.5 420.9 187.3 423.3 186.5 424.7 185.5 429.4 181 432.6 177.2 433.9 175.9 434.9 175.2 435.5 175 436.1 175 438.9 176.5 439.7 176.6 440.3 176.3 441 175.4 442 173.7 445 167.4 445.6 166.5 446.2 166.1 446.6 166 447.2 166.3 449.1 168.5 449.9 168.9 450.5 168.8 451.3 168.2 453.7 165.5 454.3 165.3 454.9 165.5 455.9 166.4 458 170.1 459.4 171.8 461 173 462.6 173.4 464.5 174.3 465.3 174.3 466.1 173.5 468.1 169.3 468.1 183"/>
<path d="M424 201.8 424 187.4 425.4 187.1 427 187.1 427.8 186.8 428.7 185.3 430.5 181.5 431.1 180.7 431.5 180.6 432.5 181 434.5 183.1 435.7 183.9 436.8 183.8 438.4 182.9 439.2 181.9 439.8 180.7 442.6 172.7 443.4 171.8 445.1 171.6 445.9 171 446.9 169.1 448.9 164.3 449.9 163.2 450.3 163.1 450.9 163.4 452.8 165.3 453.6 165.8 455.8 166.2 457.6 166.8 458.8 166.4 461.1 164 461.7 163.8 462.3 163.9 462.9 164.5 463.5 165.6 466.5 172.4 467.3 173.5 468 174 468.8 174 469.6 173.5 471.2 170.9 471.2 183.3"/>
<path d="M427.1 202 427.1 187.8 429.5 186.9 430.3 186.3 431.2 184.9 433.4 180.6 434 179.8 434.8 179.4 435.4 179.4 436 179.7 438 182.2 440.3 184.5 440.9 184.7 441.7 184.3 443.1 181.9 446.8 172.6 449.6 168.2 452.6 162.9 453.4 161.8 454.4 160.8 455.1 160.9 455.7 161.7 457.7 166.3 459.1 168.6 461.7 170.5 464.6 172.3 465.4 172.1 466 171.4 467 169.5 469 164.8 470 163.6 470.5 163.6 471.5 163.9 473.3 165.9 474.3 166.6 474.3 183.5"/>
<path d="M430.2 202.3 430.2 187.1 431.6 186 432.6 184.8 433.4 184.3 434.9 184.6 437.7 186.1 438.9 186.5 439.7 186.2 441.9 184.2 444.6 180.1 445.4 178.5 447.2 173.4 449.4 166 450.5 163.3 452.5 160.1 454.1 158.6 455.3 157.8 456.1 157.7 457.3 158 459.6 160 461 160.3 462 159.6 464 156.8 464.6 156.6 465.2 156.9 465.9 158.3 466.9 161.1 469.5 170.3 470.3 172.1 470.9 172.6 471.3 172.6 471.9 172 473.8 168.4 474.8 167.2 476.2 166.5 477.4 166.8 477.4 183.8"/>
<path d="M433.3 202.5 433.3 187.5 434.7 187.4 435.9 186.6 436.9 185.2 438.6 181.8 439.6 180.7 440.2 180.7 440.8 181.3 442.8 184.4 443.2 184.5 443.6 184.4 444.4 183.5 447.9 175.7 448.5 175 450.1 174 451.3 172.3 453.4 166.3 456.2 155 457 152.5 458.2 150.3 460.4 148.2 461.1 147.9 461.9 148.1 462.7 148.9 463.5 150.5 464.5 153.7 467.5 167.2 468.3 169.4 468.7 170 469.2 170.5 469.8 170.5 471.8 169.5 474.4 169.5 475.2 168.8 476.4 166.2 478.1 159.3 478.9 157 479.7 155.8 480.1 155.8 480.5 156.3 480.5 184"/>
<path d="M436.4 202.8 436.4 188.2 438.6 187.4 441.1 187.8 441.7 187.6 442.3 187.1 443.5 185 445.9 178.8 446.7 177.5 448.6 175.2 451.6 170.1 456 159.9 456.9 158.7 458.5 157.6 459.3 157.6 461.1 158.3 462.1 157.9 463.3 156.2 465.2 152.4 466 151.5 466.6 151.1 467 151 467.4 151.3 468.2 152.7 470.8 162.1 473.1 169.8 474.9 173.9 476.3 176 476.9 176.5 477.5 176.6 478.5 176.1 479.3 175 481.4 170.4 482.6 168.8 483.6 168 483.6 184.3"/>
<path d="M439.5 203 439.5 188.9 440.9 187.6 442.7 185.3 443.8 184.5 444.6 184.5 445.4 184.7 447.4 186.3 448 186.5 448.8 186 450 184.5 450.6 184.1 451.5 184.2 453.1 185.2 453.5 185.2 453.9 184.9 454.7 183.5 455.3 181.6 458.7 165.2 459.2 163 460 160.9 464 154.1 465.2 153.3 466.6 153.8 467.1 153.5 467.9 152.8 469.3 150.8 470.1 150.2 470.5 150.3 470.9 150.8 471.5 152.2 473.7 161.4 474.9 164.6 475.4 165.1 475.8 165 477.8 162.5 478.2 162.3 478.6 162.5 479.6 164.5 482.4 172.9 483.5 175.3 484.1 176.1 484.7 176.4 486.7 175.7 486.7 184.5"/>
<path d="M442.6 203.3 442.6 188.5 444.2 187.9 447.3 184.2 448.3 183.5 448.7 183.5 449.3 183.8 451.5 186.2 452.1 186.2 452.7 185.5 454.8 181.1 456 179.1 457 177.9 458.4 176.9 459.2 175.6 460.4 172 463.1 160.4 463.9 158.3 464.9 157.1 465.5 157.2 465.9 157.6 468.1 162.1 469.7 164 470.1 164.1 470.4 163.9 472.4 162 472.8 161.9 473.2 162.2 474 163.4 476.4 169.1 477.2 170.2 477.8 170.6 478.1 170.5 478.5 170.1 480.5 166 481.1 165.2 481.5 165.1 482.3 165.6 483.9 168.3 484.7 169.3 485.5 169.8 486 169.6 486.8 168.1 488.8 161.6 489.8 159.8 489.8 184.8"/>
<path d="M445.7 203.5 445.7 188.6 447.1 188.2 449.3 187.1 451.6 186.7 454.8 185.4 455.6 184.9 458.1 182.4 458.9 182.2 460.9 182.4 461.5 182 462.1 181.3 463.1 179 463.9 176 467.4 156.8 468.2 154.5 468.6 153.8 469.2 153.4 470 153.4 470.8 154 472.8 156.7 475.3 158.7 477.5 161.5 478.3 161.9 479.9 161.6 480.7 162.2 481.8 164.8 484.4 172.8 485.2 174.5 486 175.5 487 176 490.5 176.4 491.5 175.7 492.9 173.9 492.9 185"/>
<path d="M448.8 203.8 448.8 190.3 451 189.3 451.8 188.5 452.9 186.7 454.9 182.9 455.9 181.6 456.9 181.2 459.1 181.4 459.9 180.9 460.8 178.9 462.6 173.7 463.6 172 464 171.7 464.6 171.9 466.2 173.4 466.8 173.7 467.4 173.6 468 173 469.3 170.4 472.7 161.3 473.7 159.4 474.3 158.8 474.7 158.8 475.3 159 476.3 160.2 479.4 167.1 482 171.5 483.2 172.7 483.8 172.8 484.5 172.3 486.5 169.1 487.3 168.2 488.1 167.8 489.9 167.6 490.7 167.3 493 165.2 493.6 165.3 494.2 166.1 496 170 496 185.3"/>
<path d="M451.9 204 451.9 190.4 454.1 189.1 457 186.2 458.8 185.2 459.6 185.1 460.2 185.4 462.4 187.6 463 187.7 463.7 187.5 464.3 186.8 464.9 185.7 467.1 180 468.1 178.2 468.7 177.8 469.3 177.7 471.3 178.4 472.2 178.4 473 178.2 473.8 177.7 475 176.5 476.4 174.8 479.4 170.1 480.5 169 481.7 168.3 485.1 166.9 486.3 166.9 487.6 168.2 490.2 172.4 491.2 173.3 492 173.6 492.6 173.4 494.6 172.4 496.7 171.8 499.1 169.8 499.1 185.5"/>
<path d="M455 204.3 455 189.8 456.4 189.1 458.6 187 459.5 186.6 460.1 186.7 460.7 187.1 463.3 189.7 464.3 189.9 467.4 186.3 469.4 184.5 471.2 182 474 176.8 475.9 172.5 479.7 162.8 480.9 160.6 481.9 159.5 482.6 159.6 483.4 160.7 486.2 168.3 487 169.8 487.6 170.3 488.4 170.3 490.5 169.2 491.5 169.1 495.7 170.3 496.5 170.9 498.3 172.7 499.2 173.2 500.4 172.8 502.2 171.2 502.2 185.8"/>
<path d="M458.1 204.5 458.1 190.4 461.9 189.4 462.8 188.6 464.8 186.4 465.4 186 466 186 466.6 186.3 467 186.8 468.6 189.8 469.8 191.5 470.7 192.2 471.7 191.7 472.9 190 475.1 185 477.8 178.3 480.6 170.4 481.4 169 482 168.6 482.6 168.7 483.2 169.2 485.7 173.6 486.5 174.5 487.1 174.7 488.3 174.4 490.7 172.6 491.9 172.1 494 172.1 498 172.9 500.6 172 502.3 170.3 503.1 169.9 503.9 170 505.3 170.9 505.3 186"/>
<path d="M461.2 204.8 461.2 189.8 462.6 189 464.2 187.2 465.3 186.3 466.3 186.4 468.5 188.5 469.5 188.8 470.3 188.4 472.3 186.6 475.6 184.9 476.2 184.2 477 182.7 479.4 175.9 480.8 172.7 481.9 170.8 482.9 169.9 483.9 169.9 485.9 170.5 486.9 170.6 487.7 170.2 489.4 169 490 168.8 490.8 168.9 491.4 169.3 492 169.9 494.4 174.2 495 174.8 495.4 175 495.8 174.8 496.4 174.2 497.7 172.1 501.3 167.7 502.3 166.8 503.1 166.4 504.1 166.3 504.8 166.7 505.6 167.6 507.2 169.8 507.8 170.3 508.4 170.3 508.4 186.3"/>
<path d="M464.3 205 464.3 191.1 467.3 189.8 470.4 186.8 472 184.8 473.8 181.3 475.2 179.6 476.1 179.1 479.1 178.1 483.3 178.3 484.2 178.1 485 177.3 487.2 173.4 488.4 171.9 489.2 171.4 491.4 170.5 493.7 169.2 494.9 169.2 496.3 169.8 498.1 171 500.2 173 501.6 173.7 503 173.9 505 173.1 506 173.2 507 174.2 508.7 177.4 509.7 178.4 510.5 178.3 511.5 177.4 511.5 186.5"/>
<path d="M467.4 205.3 467.4 191.3 468.8 191.1 470.8 191.5 471.5 191.5 472.7 191 473.9 190.1 475.1 188.5 477.9 183.6 478.9 182.7 482.6 180.2 483.8 178.9 485.2 176.4 487.3 171.1 488.5 169 489.5 168.3 491.1 168.3 491.7 168 493.9 164.7 494.9 163.8 495.2 163.8 495.6 164.1 496.2 165.2 499.2 175.9 500 177.6 500.8 178.3 502 178 503.9 176.6 505.9 174.8 507.5 172.7 508.3 172.2 509.5 172.1 511.6 173.1 512.4 173 513.2 172.2 514.6 170.1 514.6 186.8"/>
<path d="M470.5 205.5 470.5 190 471.9 189.7 473.1 189 474.8 188.7 475.8 188.9 477.6 189.8 479 189.8 480 189.3 481.6 187.4 482.3 186.8 483.3 186.4 484.7 186.1 485.3 185.7 486.3 184.3 487.7 181 490.2 172.1 491.4 169.1 494.2 164.8 495.4 163.8 497.2 162.7 497.8 162.6 498.1 162.7 498.9 163.8 502.5 174 503.7 176.3 504.5 177 505.5 176.7 507.4 175.1 510.8 173.5 511.4 173.5 513.2 174 514.3 173.9 515.5 173.6 516.7 172.4 517.7 170.6 517.7 187"/>
<path d="M473.6 205.8 473.6 191.4 477.7 189.3 480.7 186.8 482.3 186.3 484.5 185.1 487.4 185 488.6 184.1 489.4 182.8 490.2 180.8 492.6 171.2 493.5 168 494.7 165.5 495.7 164.5 496.9 164.6 497.9 165.4 499.7 168.3 502 172.9 502.6 173.7 503.4 174.2 504.2 174.4 507.6 174.3 510.5 171.9 512.1 171.2 512.9 171.1 514.3 171.8 517.2 175.2 518.8 176.6 519.8 176.8 520.8 176 520.8 187.3"/>
<path d="M476.7 206 476.7 191.5 479.7 189.9 480.5 189.9 482.4 190.6 483.2 190.2 484.2 188.7 486.2 184.1 487.4 182.5 490.3 179.5 490.9 179.3 492.5 179.1 494.5 178.5 495.1 178.2 496.1 177 497.6 173.8 498.2 173 498.6 172.9 499.2 173.1 500.6 174.3 501.2 174.6 501.6 174.6 502.2 174.3 503.2 172.7 505.5 167.1 506.1 166.1 506.5 165.9 507.3 166.1 509.3 168.4 511.5 172.2 512.1 172.9 512.6 173.3 513.2 173.2 513.8 172.7 515.6 169.8 516.8 168.3 517.4 167.8 518 167.9 519.8 170.4 521.7 172.6 523.9 178 523.9 187.5"/>
<path d="M479.8 206.3 479.8 192.6 482 191.5 483.2 190.6 484.1 189.2 486.3 185.3 487.1 184.4 487.9 183.8 488.7 183.6 489.3 183.7 491.1 185.4 492 185.8 494.8 185.3 495.6 184.8 496.4 184 497.8 181.9 499.4 178.9 503.7 168.8 506.3 160.7 506.9 159.5 507.4 158.9 507.8 158.9 508.2 159.2 509 160.9 511.8 172 512.4 173.8 513 174.8 513.4 175.1 514 174.9 516.5 172.2 517.5 171.8 518.5 172.2 521.1 174.2 523.1 174.8 524.4 175.5 525.2 175.6 527 175 527 187.8"/>
</g>
<polyline points="377.5,198 479.8,206.3 527,187.8" fill="none" stroke="#666" stroke-width="0.55"/>
<path d="M376.4 240 L376.4 292" stroke="#888" stroke-width="0.6"/>
<path d="M376.4 245.8 h-1.5 M376.4 257.8 h-1.5 M376.4 269.2 h-1.5 M376.4 281 h-1.5 M376.4 292.5 h-1.5 " stroke="#888" stroke-width="0.5"/>
<text x="372.6" y="248" font-size="6.3" fill="#383838" text-anchor="end" font-weight="normal"  stroke="#383838" stroke-width="0.2">8000</text>
<text x="372.6" y="260" font-size="6.3" fill="#383838" text-anchor="end" font-weight="normal"  stroke="#383838" stroke-width="0.2">6000</text>
<text x="372.6" y="271.4" font-size="6.3" fill="#383838" text-anchor="end" font-weight="normal"  stroke="#383838" stroke-width="0.2">4000</text>
<text x="372.6" y="283.2" font-size="6.3" fill="#383838" text-anchor="end" font-weight="normal"  stroke="#383838" stroke-width="0.2">2000</text>
<text x="372.6" y="294.7" font-size="6.3" fill="#383838" text-anchor="end" font-weight="normal"  stroke="#383838" stroke-width="0.2">0</text>
<text x="413.1" y="233.6" font-size="8.6" fill="#3a3a3a" text-anchor="start" font-weight="bold" stroke="#3a3a3a" stroke-width="0.15" textLength="12.4" lengthAdjust="spacingAndGlyphs">F1s</text>
<text x="0" y="0" font-size="5.6" fill="#383838" text-anchor="middle" font-weight="normal" transform="translate(352.8 270.2) rotate(-90)" textLength="23" lengthAdjust="spacingAndGlyphs" stroke="#383838" stroke-width="0.2">counts/s</text>
<text x="370" y="300.2" font-size="6.3" fill="#383838" text-anchor="middle" font-weight="normal"  stroke="#383838" stroke-width="0.2">100</text>
<text x="389" y="302.2" font-size="6.3" fill="#383838" text-anchor="middle" font-weight="normal"  stroke="#383838" stroke-width="0.2">80</text>
<text x="411" y="304.2" font-size="6.3" fill="#383838" text-anchor="middle" font-weight="normal"  stroke="#383838" stroke-width="0.2">60</text>
<text x="432.7" y="306.2" font-size="6.3" fill="#383838" text-anchor="middle" font-weight="normal"  stroke="#383838" stroke-width="0.2">40</text>
<text x="453" y="308.2" font-size="6.3" fill="#383838" text-anchor="middle" font-weight="normal"  stroke="#383838" stroke-width="0.2">20</text>
<text x="474.4" y="309.6" font-size="6.3" fill="#383838" text-anchor="middle" font-weight="normal"  stroke="#383838" stroke-width="0.2">0</text>
<text x="503.5" y="302.6" font-size="6.3" fill="#383838" text-anchor="middle" font-weight="normal"  stroke="#383838" stroke-width="0.2">690</text>
<text x="525.4" y="293.7" font-size="6.3" fill="#383838" text-anchor="middle" font-weight="normal"  stroke="#383838" stroke-width="0.2">685</text>
<text x="364.5" y="312.2" font-size="6.3" fill="#383838" text-anchor="start" font-weight="normal" textLength="81.9" lengthAdjust="spacingAndGlyphs" stroke="#383838" stroke-width="0.2">Thickness above Silicon (nm)</text>
<text x="485" y="313.8" font-size="6.3" fill="#383838" text-anchor="start" font-weight="normal" textLength="56.5" lengthAdjust="spacingAndGlyphs" stroke="#383838" stroke-width="0.2">Binding Energy (eV)</text>
<g fill="#fff" stroke="#352e2e" stroke-width="0.8" stroke-linejoin="round">
<path d="M376.5 292 376.5 291.2 391.3 284 392.9 282.5 395.5 278.5 396.5 277.6 398.7 277 404.2 276.8 407.6 276 411.8 274.3 424.4 268.3 424.4 269.1"/>
<path d="M379.7 292.3 379.7 291.5 392.3 285.5 394.5 284.1 395.3 283.3 396.1 282 398.7 275.3 399.3 274.3 399.7 274.1 400.7 273.8 401.9 273.8 407.3 276 408.9 276.2 410.8 276.1 415 274.6 427.6 268.6 427.6 269.4"/>
<path d="M382.9 292.6 382.9 291.8 395.5 285.7 396.9 284.9 397.7 284.2 398.5 282.9 399.3 280.8 401.9 269.4 402.5 267.8 402.9 267.5 403.9 267.3 405.1 267.9 406.3 269.2 409.1 272.8 410.5 274.3 412.1 275.4 413.9 275.8 415.7 275.6 418.1 274.8 430.8 268.9 430.8 269.7"/>
<path d="M386.1 292.9 386.1 292.1 398.7 286 400.1 285.1 400.9 284.1 401.7 282.3 402.5 279.2 405.1 261.3 405.7 258.9 406.1 258.4 407.1 258.5 408.3 259.9 409.5 262.2 412.3 269.1 413.7 271.9 415.3 274.2 416.1 274.9 417.1 275.4 418.9 275.7 421.3 275.1 434 269.2 434 270"/>
<path d="M389.3 293.2 389.3 292.4 401.9 286.3 403.3 285.3 404.1 284.1 404.9 281.8 405.7 277.6 408.3 253.6 408.9 250.4 409.3 249.8 409.7 249.8 410.3 250.1 411.5 252.2 412.7 255.6 415.5 265.5 416.9 269.7 418.5 273.1 419.3 274.2 420.3 275.1 421.1 275.5 422.1 275.7 424.5 275.3 427.7 274 437.2 269.5 437.2 270.3"/>
<path d="M392.4 293.5 392.4 292.7 405.1 286.6 406.5 285.5 407.3 284.1 408.1 281.4 408.9 276.4 411.5 247.4 412.1 243.5 412.5 242.9 412.9 242.9 413.5 243.4 414.7 246 415.9 250.3 418.7 262.6 420.1 267.9 421.7 272.2 422.5 273.6 423.5 274.8 424.3 275.4 425.3 275.8 426.3 275.8 427.7 275.5 430.9 274.3 440.3 269.8 440.3 270.6"/>
<path d="M395.6 293.8 395.6 293 408.3 286.9 409.7 285.8 410.5 284.3 411.3 281.4 412.1 275.9 414.7 244.6 415.3 240.4 415.7 239.7 416.1 239.7 416.7 240.3 417.9 243.2 419.1 247.9 421.9 261.4 423.3 267.2 424.9 271.9 425.7 273.5 426.7 274.9 427.5 275.5 428.5 276 429.5 276.1 430.9 275.8 434.1 274.6 443.5 270.1 443.5 270.9"/>
<path d="M398.8 294.1 398.8 293.3 411.4 287.2 412.8 286.1 413.6 284.7 414.4 281.8 415.2 276.6 417.9 246.4 418.5 242.4 418.9 241.7 419.3 241.7 419.9 242.3 421.1 245 422.3 249.6 425.1 262.5 426.5 268 428.1 272.5 428.9 274 429.9 275.3 430.7 275.9 431.7 276.3 432.7 276.4 434.1 276.1 437.3 274.9 446.7 270.4 446.7 271.2"/>
<path d="M402 294.4 402 293.6 414.6 287.5 416 286.5 416.8 285.3 417.6 283.1 418.4 279.1 421 255.9 421.6 252.8 422 252.3 422.4 252.2 423 252.6 424.2 254.5 425.5 257.8 428.3 267.2 429.7 271.2 431.3 274.5 432.1 275.5 433.1 276.4 433.9 276.8 434.9 276.9 437.3 276.5 440.5 275.2 449.9 270.7 449.9 271.5"/>
<path d="M405.2 294.7 405.2 293.9 417.8 287.8 419.2 286.9 420 286 420.8 284.4 421.6 281.5 424.2 265.5 424.8 263.3 425.2 262.9 426.2 262.9 427.4 264 428.6 266.1 431.4 272 432.8 274.5 434.5 276.4 436.3 277.4 438.1 277.5 440.5 276.9 453.1 271 453.1 271.8"/>
<path d="M408.4 295 408.4 294.2 421 288.1 422.4 287.3 423.2 286.5 424 285 424.8 282.6 427.4 269.1 428 267.2 428.4 266.8 429.4 266.8 430.6 267.6 431.8 269.2 434.6 273.9 436 275.8 437.6 277.3 439.4 278 441.2 277.9 443.7 277.2 456.3 271.3 456.3 272.1"/>
<path d="M411.6 295.3 411.6 294.5 424.2 288.4 425.6 287.6 426.4 286.8 427.2 285.4 428 283.1 430.6 270.1 431.2 268.3 431.6 267.9 432.6 267.9 433.8 268.6 435 270.1 437.8 274.6 439.2 276.4 440.8 277.8 442.6 278.4 444.4 278.3 446.8 277.5 459.5 271.6 459.5 272.4"/>
<path d="M414.8 295.6 414.8 294.8 427.4 288.7 428.8 287.9 429.6 287.1 430.4 285.7 431.2 283.4 433.8 270.4 434.4 268.6 434.8 268.2 435.8 268.2 437 268.9 438.2 270.4 441 274.9 442.4 276.7 444 278.1 445.8 278.7 447.6 278.6 450 277.8 462.7 271.9 462.7 272.7"/>
<path d="M417.9 295.9 417.9 295.1 430.6 289 432 288.2 432.8 287.4 433.6 286 434.4 283.7 437 270.7 437.6 268.9 438 268.5 439 268.5 440.2 269.2 441.4 270.7 444.2 275.2 445.6 277 447.2 278.4 449 279 450.8 278.9 453.2 278.1 465.8 272.2 465.8 273"/>
<path d="M421.1 296.2 421.1 295.4 433.8 289.3 435.2 288.5 436 287.7 436.8 286.3 437.6 284 440.2 271 440.8 269.2 441.2 268.8 442.2 268.8 443.4 269.5 444.6 271 447.4 275.5 448.8 277.3 450.4 278.7 452.2 279.3 454 279.2 456.4 278.4 469 272.5 469 273.3"/>
<path d="M424.3 296.5 424.3 295.7 436.9 289.6 438.3 288.8 439.1 288 440 286.6 440.8 284.2 443.4 271.2 444 269.4 444.4 269 445.4 269 446.6 269.7 447.8 271.3 450.6 275.7 452 277.6 453.6 278.9 455.4 279.6 457.2 279.5 459.6 278.7 472.2 272.8 472.2 273.6"/>
<path d="M427.5 296.8 427.5 296 440.1 289.9 441.5 289 442.3 288.2 443.1 286.6 443.9 283.8 446.5 268.4 447.1 266.3 447.5 265.8 448.5 265.9 449.8 266.9 451 268.9 453.8 274.5 455.2 276.9 456.8 278.7 458.6 279.6 460.4 279.7 462.8 279 475.4 273.1 475.4 273.9"/>
<path d="M430.7 297.1 430.7 296.3 443.3 290.2 444.7 289.3 445.5 288.2 446.3 286.1 447.1 282.5 449.7 261.8 450.3 259.1 450.7 258.5 451.1 258.5 451.7 258.7 452.9 260.4 454.1 263.2 456.9 271.5 458.4 275 460 277.7 460.8 278.6 461.8 279.3 463.6 279.7 466 279.2 478.6 273.4 478.6 274.2"/>
<path d="M433.9 297.4 433.9 296.6 446.5 290.5 447.9 289.5 448.7 288.2 449.5 285.7 450.3 281.1 452.9 254.9 453.5 251.4 453.9 250.7 454.3 250.7 454.9 251.1 456.1 253.5 457.3 257.3 460.1 268.3 461.5 272.9 463.1 276.7 463.9 278 464.9 279 465.7 279.5 466.8 279.8 467.8 279.8 469.2 279.5 472.4 278.2 481.8 273.7 481.8 274.5"/>
<path d="M437.1 297.7 437.1 296.9 449.7 290.8 451.1 289.7 451.9 288.4 452.7 285.7 453.5 280.8 456.1 252.7 456.7 249 457.1 248.3 457.5 248.3 458.1 248.8 459.3 251.3 460.5 255.5 463.3 267.4 464.7 272.5 466.3 276.6 467.1 278 468.1 279.1 468.9 279.7 469.9 280 470.9 280 472.3 279.8 475.6 278.5 485 274 485 274.8"/>
<path d="M440.3 298 440.3 297.2 452.9 291.1 454.3 290 455.1 288.7 455.9 286 456.7 281.2 459.3 253.3 459.9 249.6 460.3 248.9 460.7 248.9 461.3 249.4 462.5 251.9 463.7 256 466.5 267.8 467.9 272.8 469.5 276.9 470.3 278.3 471.3 279.4 472.1 280 473.1 280.3 474.1 280.3 475.5 280.1 478.7 278.8 488.2 274.3 488.2 275.1"/>
<path d="M443.4 298.3 443.4 297.5 456.1 291.4 457.5 290.4 458.3 289.2 459.1 286.8 459.9 282.6 462.5 258.2 463.1 254.9 463.5 254.3 463.9 254.3 464.5 254.7 465.7 256.8 466.9 260.3 469.7 270.3 471.1 274.6 472.7 278.1 473.5 279.2 474.5 280.1 475.3 280.6 476.3 280.8 478.7 280.4 481.9 279.1 491.3 274.6 491.3 275.4"/>
<path d="M446.6 298.6 446.6 297.8 459.3 291.7 460.7 290.8 461.5 289.8 462.3 287.9 463.1 284.7 465.7 266.1 466.3 263.6 466.7 263.1 467.1 263 467.7 263.2 468.9 264.6 470.1 267.1 472.9 274.3 474.3 277.3 475.9 279.7 476.7 280.5 477.7 281.1 479.5 281.3 481.9 280.8 494.5 274.9 494.5 275.7"/>
<path d="M449.8 298.9 449.8 298.1 462.4 292 463.9 291.2 464.7 290.3 465.5 288.8 466.3 286.3 468.9 272.1 469.5 270.1 469.9 269.7 470.9 269.7 472.1 270.6 473.3 272.3 476.1 277.4 477.5 279.5 479.1 281.1 480.9 281.8 482.7 281.8 485.1 281.1 497.7 275.2 497.7 276"/>
<path d="M453 299.2 453 298.4 465.6 292.3 467 291.5 467.8 290.7 468.6 289.3 469.4 287 472 274 472.7 272.2 473.1 271.8 474.1 271.8 475.3 272.5 476.5 274 479.3 278.5 480.7 280.3 482.3 281.7 484.1 282.3 485.9 282.2 488.3 281.4 500.9 275.5 500.9 276.3"/>
<path d="M456.2 299.5 456.2 298.7 468.8 292.6 470.2 291.8 471 291 471.8 289.6 472.6 287.3 475.2 274.3 475.8 272.5 476.2 272.1 477.2 272.1 478.4 272.8 479.6 274.3 482.5 278.8 483.9 280.6 485.5 282 487.3 282.6 489.1 282.5 491.5 281.7 504.1 275.8 504.1 276.6"/>
<path d="M459.4 299.8 459.4 299 472 292.9 473.4 292.1 474.2 291.3 475 289.9 475.8 287.6 478.4 274.6 479 272.8 479.4 272.4 480.4 272.4 481.6 273.1 482.8 274.6 485.6 279.1 487 280.9 488.6 282.3 490.4 282.9 492.3 282.8 494.7 282 507.3 276.1 507.3 276.9"/>
<path d="M462.6 300.1 462.6 299.3 475.2 293.2 476.6 292.4 477.4 291.6 478.2 290.2 479 287.9 481.6 274.9 482.2 273.1 482.6 272.7 483.6 272.7 484.8 273.4 486 274.9 488.8 279.4 490.2 281.2 491.8 282.6 493.6 283.2 495.4 283.1 497.8 282.3 510.5 276.4 510.5 277.2"/>
<path d="M465.8 300.4 465.8 299.6 478.4 293.5 479.8 292.7 480.6 291.9 481.4 290.5 482.2 288.2 484.8 275.2 485.4 273.4 485.8 273 486.8 273 488 273.7 489.2 275.2 492 279.7 493.4 281.5 495 282.9 496.8 283.5 498.6 283.4 501 282.6 513.7 276.7 513.7 277.5"/>
<path d="M468.9 300.7 468.9 299.9 481.6 293.8 483 293 483.8 292.2 484.6 290.8 485.4 288.5 488 275.5 488.6 273.7 489 273.3 490 273.3 491.2 274 492.4 275.5 495.2 280 496.6 281.8 498.2 283.2 500 283.8 501.8 283.7 504.2 282.9 516.8 277 516.8 277.8"/>
<path d="M472.1 301 472.1 300.2 484.8 294.1 486.2 293.3 487 292.5 487.8 291.1 488.6 288.8 491.2 275.8 491.8 274 492.2 273.6 493.2 273.6 494.4 274.3 495.6 275.8 498.4 280.3 499.8 282.1 501.4 283.5 503.2 284.1 505 284 507.4 283.2 520 277.3 520 278.1"/>
<path d="M475.3 301.3 475.3 300.5 488 294.4 489.4 293.6 490.2 292.8 491 291.4 491.8 289.1 494.4 276.1 495 274.3 495.4 273.9 496.4 273.9 497.6 274.6 498.8 276.1 501.6 280.6 503 282.4 504.6 283.8 506.4 284.4 508.2 284.3 510.6 283.5 523.2 277.6 523.2 278.4"/>
<path d="M478.5 301.6 478.5 300.8 491.1 294.7 492.5 293.9 493.3 293.1 494.1 291.6 494.9 289.2 497.6 275.8 498.2 274 498.6 273.6 499.2 273.5 499.8 273.6 501 274.6 505.2 281.2 507.2 283.5 507.4 281.9 508.2 282.1 509.2 281.8 510.6 281.1 512.6 279.6 515.2 278.6 517 278.4 519.4 279.5 520.4 279.3 521.4 278.5 524.2 275.1 525 274.6 526.4 274.5 526.4 278.7"/>
<path d="M481.7 301.9 481.7 301.1 487.3 298.4 489.7 296.9 491.5 295.3 492.9 293.1 494.3 289.7 495.5 285.6 499.7 266.6 500.7 263.8 501.3 262.8 501.7 262.5 502.1 262.5 502.7 263 503.7 264.9 508 279.1 509.2 282 510.4 284 510.6 283.8 511.4 284.4 512.4 284.8 513.2 284.7 514 284.4 517.4 281.6 520.8 277.6 521.8 276.8 522.8 276.2 524 276.2 526.4 277.4 527.8 277.8 528.8 277.9 529.6 277.6 529.6 279"/>
</g>
<polyline points="376.5,292 481.7,301.9 529.6,279" fill="none" stroke="#666" stroke-width="0.55"/>
<path d="M376 349 L376 399" stroke="#888" stroke-width="0.6"/>
<path d="M376 354.7 h-1.5 M376 365.8 h-1.5 M376 376.7 h-1.5 M376 387.4 h-1.5 M376 398.9 h-1.5 " stroke="#888" stroke-width="0.5"/>
<text x="372.2" y="356.9" font-size="6.3" fill="#383838" text-anchor="end" font-weight="normal"  stroke="#383838" stroke-width="0.2">8000</text>
<text x="372.2" y="368" font-size="6.3" fill="#383838" text-anchor="end" font-weight="normal"  stroke="#383838" stroke-width="0.2">6000</text>
<text x="372.2" y="378.9" font-size="6.3" fill="#383838" text-anchor="end" font-weight="normal"  stroke="#383838" stroke-width="0.2">4000</text>
<text x="372.2" y="389.6" font-size="6.3" fill="#383838" text-anchor="end" font-weight="normal"  stroke="#383838" stroke-width="0.2">2000</text>
<text x="372.2" y="401.1" font-size="6.3" fill="#383838" text-anchor="end" font-weight="normal"  stroke="#383838" stroke-width="0.2">0</text>
<text x="413.1" y="337.6" font-size="8.6" fill="#3a3a3a" text-anchor="start" font-weight="bold" stroke="#3a3a3a" stroke-width="0.15" textLength="14.2" lengthAdjust="spacingAndGlyphs">O1s</text>
<text x="0" y="0" font-size="5.6" fill="#383838" text-anchor="middle" font-weight="normal" transform="translate(352.8 376.5) rotate(-90)" textLength="23" lengthAdjust="spacingAndGlyphs" stroke="#383838" stroke-width="0.2">counts/s</text>
<text x="367.5" y="407.1" font-size="6.3" fill="#383838" text-anchor="middle" font-weight="normal"  stroke="#383838" stroke-width="0.2">100</text>
<text x="390.2" y="409.4" font-size="6.3" fill="#383838" text-anchor="middle" font-weight="normal"  stroke="#383838" stroke-width="0.2">80</text>
<text x="410.6" y="411.2" font-size="6.3" fill="#383838" text-anchor="middle" font-weight="normal"  stroke="#383838" stroke-width="0.2">60</text>
<text x="432.3" y="412.8" font-size="6.3" fill="#383838" text-anchor="middle" font-weight="normal"  stroke="#383838" stroke-width="0.2">40</text>
<text x="453.3" y="414.8" font-size="6.3" fill="#383838" text-anchor="middle" font-weight="normal"  stroke="#383838" stroke-width="0.2">20</text>
<text x="475.7" y="416.9" font-size="6.3" fill="#383838" text-anchor="middle" font-weight="normal"  stroke="#383838" stroke-width="0.2">0</text>
<text x="498.2" y="412.4" font-size="6.3" fill="#383838" text-anchor="middle" font-weight="normal"  stroke="#383838" stroke-width="0.2">535</text>
<text x="533.8" y="397.6" font-size="6.3" fill="#383838" text-anchor="middle" font-weight="normal"  stroke="#383838" stroke-width="0.2">530</text>
<text x="363.5" y="419.3" font-size="6.3" fill="#383838" text-anchor="start" font-weight="normal" textLength="82.2" lengthAdjust="spacingAndGlyphs" stroke="#383838" stroke-width="0.2">Thickness above Silicon (nm)</text>
<text x="486" y="421" font-size="6.3" fill="#383838" text-anchor="start" font-weight="normal" textLength="56.4" lengthAdjust="spacingAndGlyphs" stroke="#383838" stroke-width="0.2">Binding Energy (eV)</text>
<g fill="#fff" stroke="#352e2e" stroke-width="0.8" stroke-linejoin="round">
<path d="M376.6 398.6 376.6 397.8 394.2 391.7 396.3 390.4 399.4 387.5 400.8 386.6 403.9 385.8 410.2 385.3 413.7 384.8 418 383.6 425.6 381.1 425.6 381.9"/>
<path d="M379.8 398.9 379.8 398.1 394.7 392.9 397.4 391.8 398.4 391.1 399.4 390.1 402.5 385.5 403.3 384.6 403.9 384.3 405.4 383.9 407 383.8 413.4 384.8 416.9 384.7 421.2 383.8 428.8 381.3 428.8 382.2"/>
<path d="M382.9 399.1 382.9 398.3 397.9 393.2 400.5 391.9 401.6 391 402.6 389.4 405.7 382 406.5 380.6 407.1 380.2 408.5 380 410.2 380.3 416.5 383.6 418.2 384.1 420 384.4 422.1 384.3 424.3 383.9 431.9 381.6 431.9 382.4"/>
<path d="M386.1 399.4 386.1 398.6 401 393.4 402.7 392.7 403.7 391.9 404.7 390.5 405.7 388.1 408.8 375.9 409.6 373.7 410.2 373 411.7 373 413.3 373.9 414.8 375.4 419.7 381.3 421.3 382.7 423.2 383.7 425.2 384.1 427.5 384 430.3 383.3 435.1 381.8 435.1 382.7"/>
<path d="M389.2 399.6 389.2 398.8 404.2 393.7 405.8 392.8 406.8 391.8 407.9 389.8 408.9 386.3 409.9 380.9 412 367.9 412.8 364.6 413.4 363.8 414 363.7 414.8 364 415.7 364.7 416.5 365.7 417.9 368.3 422.8 378.4 424.5 380.9 426.3 382.7 428.4 383.8 430.6 384 433.5 383.5 438.2 382.1 438.2 382.9"/>
<path d="M392.4 399.9 392.4 399.1 407.3 393.9 409 392.9 410 391.6 411 389.1 412 384.4 413.1 377.3 415.1 359.9 415.9 355.5 416.6 354.4 417.2 354.4 418 354.9 418.8 356 419.6 357.5 421.1 361.1 426 375.5 427.6 379 429.5 381.8 430.5 382.7 431.5 383.4 432.5 383.8 433.8 384 436.6 383.7 441.4 382.3 441.4 383.2"/>
<path d="M395.5 400.1 395.5 399.3 410.5 394.1 412.1 393.1 413.1 391.7 414.2 388.8 415.2 383.5 416.2 375.3 418.3 355.4 419.1 350.4 419.7 349.1 420.3 349.1 421.1 349.8 422 351 422.8 352.8 424.2 357 429.1 373.9 430.8 378.1 432.6 381.3 433.6 382.5 434.7 383.3 435.7 383.8 436.9 384.1 439.8 383.9 444.5 382.6 444.5 383.4"/>
<path d="M398.7 400.4 398.7 399.6 413.6 394.4 415.3 393.3 416.3 391.9 417.3 388.9 418.3 383.5 419.4 375.1 421.4 354.6 422.2 349.5 422.9 348.2 423.5 348.3 424.3 348.9 425.1 350.2 425.9 352 427.4 356.4 432.3 373.8 433.9 378.1 435.8 381.4 436.8 382.6 437.8 383.5 438.8 384 440.1 384.3 442.9 384.2 447.7 382.8 447.7 383.7"/>
<path d="M401.8 400.6 401.8 399.8 416.8 394.7 418.4 393.7 419.4 392.3 420.5 389.6 421.5 384.8 422.5 377.3 424.6 359.1 425.4 354.5 426 353.3 426.6 353.3 427.4 353.9 428.3 355 429.1 356.6 430.5 360.4 435.4 375.6 437.1 379.4 438.9 382.3 439.9 383.3 441 384 442 384.5 443.2 384.7 446.1 384.5 450.8 383.1 450.8 383.9"/>
<path d="M405 400.9 405 400.1 419.9 394.9 421.6 394 422.6 393 423.6 390.9 424.6 387.3 425.7 381.8 427.7 368.3 428.5 364.9 429.2 364 429.8 364 430.6 364.3 431.4 365 432.2 366.1 433.7 368.7 438.6 379.4 440.2 381.9 442.1 383.9 444.1 385 446.4 385.2 449.2 384.8 454 383.3 454 384.2"/>
<path d="M408.1 401.1 408.1 400.3 423.1 395.2 424.7 394.4 425.7 393.6 426.8 392.1 427.8 389.6 430.9 376.8 431.7 374.4 432.3 373.8 433.7 373.8 435.4 374.8 436.8 376.3 441.7 382.8 443.4 384.3 445.2 385.3 447.3 385.8 449.5 385.7 452.4 385.1 457.1 383.6 457.1 384.4"/>
<path d="M411.3 401.4 411.3 400.6 426.2 395.4 427.9 394.7 428.9 394 429.9 392.9 430.9 390.9 434 381.1 434.8 379.3 435.5 378.8 436.9 378.6 438.5 379.2 440 380.3 444.9 384.6 446.5 385.6 448.4 386.2 450.4 386.4 452.7 386.1 455.6 385.4 460.3 383.9 460.3 384.7"/>
<path d="M414.4 401.6 414.4 400.8 429.4 395.7 431 395 432 394.3 433.1 393.2 434.1 391.4 437.2 382.3 438 380.6 438.6 380.1 440 379.9 441.7 380.4 443.1 381.3 448 385.2 449.7 386 451.5 386.6 453.6 386.7 455.8 386.4 463.4 384.1 463.4 384.9"/>
<path d="M417.6 401.9 417.6 401.1 432.5 395.9 434.2 395.2 435.2 394.6 436.2 393.5 437.3 391.6 440.3 382.5 441.1 380.8 441.8 380.3 443.2 380.2 444.8 380.7 446.3 381.6 451.2 385.4 452.8 386.3 454.7 386.8 456.7 386.9 459 386.6 466.6 384.4 466.6 385.2"/>
<path d="M420.7 402.1 420.7 401.3 435.7 396.2 437.3 395.5 438.4 394.8 439.4 393.7 440.4 391.9 443.5 382.8 444.3 381.1 444.9 380.6 446.3 380.4 448 380.9 449.4 381.8 454.3 385.7 456 386.6 457.8 387.1 459.9 387.2 462.1 386.9 469.7 384.6 469.7 385.4"/>
<path d="M423.9 402.4 423.9 401.6 438.8 396.5 440.5 395.7 441.5 395 442.5 393.9 443.6 392 446.6 382.4 447.5 380.6 448.1 380.1 449.5 379.9 451.1 380.5 452.6 381.5 457.5 385.7 459.1 386.6 461 387.2 463 387.4 465.3 387.1 472.9 384.9 472.9 385.7"/>
<path d="M427 402.6 427 401.8 442 396.7 443.6 395.9 444.7 395.1 445.7 393.7 446.7 391.2 449.8 378.8 450.6 376.5 451.2 375.8 452.7 375.8 454.3 376.8 455.7 378.3 460.6 384.5 462.3 385.9 464.1 386.9 466.2 387.4 468.4 387.2 471.3 386.6 476 385.1 476 385.9"/>
<path d="M430.2 402.9 430.2 402.1 445.1 396.9 446.8 396.1 447.8 395.1 448.8 393.3 449.9 390 450.9 385 452.9 373 453.8 370 454.4 369.2 455 369.1 455.8 369.3 457.4 370.9 458.9 373.2 463.8 382.4 465.4 384.6 467.3 386.3 469.3 387.2 471.6 387.3 474.5 386.8 479.2 385.4 479.2 386.2"/>
<path d="M433.3 403.1 433.3 402.3 448.3 397.2 449.9 396.3 451 395.1 452 392.8 453 388.8 454 382.6 456.1 367.6 456.9 363.7 457.5 362.8 458.1 362.7 459 363.1 459.8 364 460.6 365.3 462 368.3 467 380.4 468.6 383.4 470.4 385.7 472.5 387 474.7 387.4 477.6 387 482.3 385.6 482.3 386.4"/>
<path d="M436.5 403.4 436.5 402.6 451.4 397.4 453.1 396.5 454.1 395.2 455.1 392.8 456.2 388.3 457.2 381.5 459.2 365 460.1 360.9 460.7 359.8 461.3 359.8 462.1 360.2 462.9 361.2 463.7 362.6 465.2 366 470.1 379.6 471.7 383 473.6 385.5 474.6 386.4 475.6 387 477.9 387.6 480.8 387.2 485.5 385.9 485.5 386.7"/>
<path d="M439.6 403.6 439.6 402.8 454.6 397.7 456.2 396.7 457.3 395.5 458.3 393 459.3 388.6 460.3 381.7 462.4 365.1 463.2 360.9 463.8 359.9 464.4 359.8 465.3 360.3 466.1 361.3 466.9 362.7 468.3 366.1 473.3 379.8 474.9 383.2 476.7 385.7 477.8 386.7 478.8 387.3 481 387.8 483.9 387.5 488.6 386.1 488.6 386.9"/>
<path d="M442.8 403.9 442.8 403.1 457.7 397.9 459.4 397 460.4 395.9 461.4 393.8 462.5 389.9 463.5 384.1 465.5 369.8 466.4 366.2 467 365.3 467.6 365.2 468.4 365.6 469.2 366.4 470 367.5 471.5 370.4 476.4 381.8 478 384.6 479.9 386.7 481.9 387.9 484.2 388.2 487.1 387.8 491.8 386.4 491.8 387.2"/>
<path d="M445.9 404.1 445.9 403.3 460.9 398.2 462.5 397.4 463.6 396.5 464.6 394.8 465.6 391.9 466.6 387.5 468.7 377 469.5 374.3 470.1 373.5 470.7 373.4 471.6 373.6 473.2 374.9 474.6 376.8 479.6 384.7 481.2 386.6 483 387.9 485.1 388.6 487.3 388.7 490.2 388.1 494.9 386.6 494.9 387.4"/>
<path d="M449.1 404.4 449.1 403.6 464.1 398.5 465.7 397.7 466.7 397 467.7 395.7 468.8 393.6 471.8 383 472.7 381 473.3 380.4 474.7 380.3 476.4 381.1 477.8 382.3 482.7 387.2 484.3 388.3 486.2 389 488.2 389.3 490.5 389.1 493.4 388.4 498.1 386.9 498.1 387.7"/>
<path d="M452.2 404.6 452.2 403.8 467.2 398.7 468.8 398 469.9 397.3 470.9 396.2 471.9 394.4 475 385.4 475.8 383.7 476.4 383.2 477.9 383 479.5 383.5 480.9 384.4 485.9 388.2 487.5 389.1 489.3 389.6 491.4 389.7 493.7 389.4 501.2 387.1 501.2 387.9"/>
<path d="M455.4 404.9 455.4 404.1 470.4 399 472 398.3 473 397.6 474 396.5 475.1 394.8 478.1 386 479 384.3 479.6 383.8 481 383.7 482.7 384.1 484.1 385 489 388.6 490.7 389.4 492.5 389.9 494.5 390 496.8 389.7 504.4 387.4 504.4 388.2"/>
<path d="M458.5 405.1 458.5 404.3 473.5 399.2 475.1 398.5 476.2 397.9 477.2 396.8 478.2 395 481.3 386.2 482.1 384.6 482.7 384.1 484.2 383.9 485.8 384.4 487.2 385.3 492.2 388.9 493.8 389.7 495.6 390.2 497.7 390.2 500 389.9 507.5 387.6 507.5 388.4"/>
<path d="M461.7 405.4 461.7 404.6 476.7 399.5 478.3 398.8 479.3 398.1 480.3 397 481.4 395.3 484.4 386.5 485.3 384.8 485.9 384.3 487.3 384.2 489 384.6 490.4 385.5 495.3 389.1 497 389.9 498.8 390.4 500.8 390.5 503.1 390.2 510.7 387.9 510.7 388.7"/>
<path d="M464.8 405.6 464.8 404.8 479.8 399.7 481.4 399 482.5 398.4 483.5 397.3 484.5 395.5 487.6 386.7 488.4 385.1 489 384.6 490.5 384.4 492.1 384.9 493.5 385.8 498.5 389.4 500.1 390.2 502 390.7 504 390.7 506.3 390.4 513.8 388.1 513.8 388.9"/>
<path d="M468 405.9 468 405.1 483 400 484.6 399.3 485.6 398.6 486.7 397.5 487.7 395.8 490.8 387 491.6 385.4 492.2 384.8 493.6 384.7 495.3 385.2 496.7 386 501.6 389.6 503.3 390.4 505.1 390.9 507.2 391 509.4 390.7 517 388.4 517 389.2"/>
<path d="M471.1 406.1 471.1 405.3 486.1 400.2 487.8 399.5 488.8 398.9 489.8 397.8 490.8 396 493.9 387.2 494.7 385.6 495.3 385.1 496.8 384.9 498.4 385.4 499.8 386.3 504.8 389.9 506.4 390.7 508.3 391.2 510.3 391.2 512.6 390.9 520.1 388.6 520.1 389.4"/>
<path d="M474.3 406.4 474.3 405.6 489.3 400.5 490.9 399.8 491.9 399.1 493 398 494 396.3 497.1 387.5 497.9 385.9 498.5 385.4 499.9 385.2 501.6 385.7 503 386.5 507.9 390.1 509.6 390.9 511.4 391.4 513.5 391.5 515.7 391.2 523.3 388.9 523.3 389.7"/>
<path d="M477.4 406.6 477.4 405.8 492.4 400.7 494.1 400 495.1 399.3 496.1 398.2 497.1 396.4 500.2 387.2 501 385.5 501.6 385 503.1 384.8 504.7 385.3 506.2 386.3 511.1 390.2 512.7 391 514.4 391.5 514.6 389.2 515.2 389.2 516 388.8 518.7 386.7 519.9 386 520.7 386.1 524.2 387.2 526.4 389.1 526.4 389.9"/>
<path d="M480.6 406.9 480.6 406.1 486.8 403.9 489.6 402.6 491.9 401 493.7 398.6 495.4 395.3 497 390.7 502.3 371 503.6 368.1 504.2 367.3 504.8 366.9 505.4 366.9 506 367.2 507.5 369.3 508.9 372.7 512 381.6 513.4 385.2 515 388.4 516.9 390.6 517.5 391 517.7 388.8 518.7 388.6 520 388.4 523.4 388.9 526.9 388.7 529.6 388 529.6 390.2"/>
</g>
<polyline points="376.6,398.6 480.6,406.9 529.6,390.2" fill="none" stroke="#666" stroke-width="0.55"/>
</svg></div>
</body></html>
